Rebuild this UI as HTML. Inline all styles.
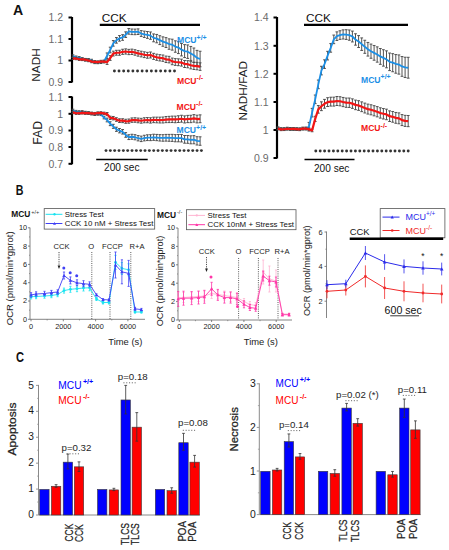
<!DOCTYPE html>
<html><head><meta charset="utf-8"><style>
html,body{margin:0;padding:0;background:#fff;}
svg{display:block;font-family:"Liberation Sans", sans-serif;}
</style></head><body>
<svg width="449" height="550" viewBox="0 0 449 550">
<rect width="449" height="550" fill="#fff"/>
<text x="13" y="14.7" font-size="14.8" fill="#111" text-anchor="start" font-weight="bold" textLength="10.2" lengthAdjust="spacingAndGlyphs">A</text>
<line x1="72" y1="17" x2="72" y2="82.5" stroke="#000" stroke-width="2.2" />
<line x1="68.5" y1="17.5" x2="72" y2="17.5" stroke="#000" stroke-width="2" />
<text x="63" y="21.3" font-size="10.5" fill="#6b6b6b" text-anchor="end" font-weight="normal" >1.2</text>
<line x1="68.5" y1="39" x2="72" y2="39" stroke="#000" stroke-width="2" />
<text x="63" y="42.8" font-size="10.5" fill="#6b6b6b" text-anchor="end" font-weight="normal" >1.1</text>
<line x1="68.5" y1="60.5" x2="72" y2="60.5" stroke="#000" stroke-width="2" />
<text x="63" y="64.3" font-size="10.5" fill="#6b6b6b" text-anchor="end" font-weight="normal" >1</text>
<line x1="68.5" y1="82" x2="72" y2="82" stroke="#000" stroke-width="2" />
<text x="63" y="85.8" font-size="10.5" fill="#6b6b6b" text-anchor="end" font-weight="normal" >0.9</text>
<text x="40.2" y="65" font-size="11.8" fill="#222" text-anchor="middle" font-weight="normal" transform="rotate(-90 40.2 65)" >NADH</text>
<line x1="72" y1="96.5" x2="72" y2="164.3" stroke="#000" stroke-width="2.2" />
<line x1="68.5" y1="97" x2="72" y2="97" stroke="#000" stroke-width="2" />
<text x="63" y="100.8" font-size="10.5" fill="#6b6b6b" text-anchor="end" font-weight="normal" >1.1</text>
<line x1="68.5" y1="113.8" x2="72" y2="113.8" stroke="#000" stroke-width="2" />
<text x="63" y="117.6" font-size="10.5" fill="#6b6b6b" text-anchor="end" font-weight="normal" >1</text>
<line x1="68.5" y1="130.5" x2="72" y2="130.5" stroke="#000" stroke-width="2" />
<text x="63" y="134.3" font-size="10.5" fill="#6b6b6b" text-anchor="end" font-weight="normal" >0.9</text>
<line x1="68.5" y1="147" x2="72" y2="147" stroke="#000" stroke-width="2" />
<text x="63" y="150.8" font-size="10.5" fill="#6b6b6b" text-anchor="end" font-weight="normal" >0.8</text>
<line x1="68.5" y1="163.8" x2="72" y2="163.8" stroke="#000" stroke-width="2" />
<text x="63" y="167.6" font-size="10.5" fill="#6b6b6b" text-anchor="end" font-weight="normal" >0.7</text>
<text x="42.4" y="132.8" font-size="12.2" fill="#222" text-anchor="middle" font-weight="normal" transform="rotate(-90 42.4 132.8)" >FAD</text>
<text x="101.7" y="21.7" font-size="11.8" fill="#111" text-anchor="start" font-weight="normal" >CCK</text>
<line x1="99.8" y1="24.9" x2="200" y2="24.9" stroke="#000" stroke-width="2.2" />
<line x1="73" y1="54.89" x2="73" y2="57.49" stroke="#4a4a4a" stroke-width="0.95" />
<line x1="71.6" y1="54.89" x2="74.4" y2="54.89" stroke="#4a4a4a" stroke-width="0.95" />
<line x1="71.6" y1="57.49" x2="74.4" y2="57.49" stroke="#4a4a4a" stroke-width="0.95" />
<line x1="76.1" y1="56.03" x2="76.1" y2="58.63" stroke="#4a4a4a" stroke-width="0.95" />
<line x1="74.7" y1="56.03" x2="77.5" y2="56.03" stroke="#4a4a4a" stroke-width="0.95" />
<line x1="74.7" y1="58.63" x2="77.5" y2="58.63" stroke="#4a4a4a" stroke-width="0.95" />
<line x1="79.2" y1="56.59" x2="79.2" y2="59.19" stroke="#4a4a4a" stroke-width="0.95" />
<line x1="77.8" y1="56.59" x2="80.6" y2="56.59" stroke="#4a4a4a" stroke-width="0.95" />
<line x1="77.8" y1="59.19" x2="80.6" y2="59.19" stroke="#4a4a4a" stroke-width="0.95" />
<line x1="82.3" y1="57.65" x2="82.3" y2="60.25" stroke="#4a4a4a" stroke-width="0.95" />
<line x1="80.9" y1="57.65" x2="83.7" y2="57.65" stroke="#4a4a4a" stroke-width="0.95" />
<line x1="80.9" y1="60.25" x2="83.7" y2="60.25" stroke="#4a4a4a" stroke-width="0.95" />
<line x1="85.4" y1="58.45" x2="85.4" y2="61.05" stroke="#4a4a4a" stroke-width="0.95" />
<line x1="84" y1="58.45" x2="86.8" y2="58.45" stroke="#4a4a4a" stroke-width="0.95" />
<line x1="84" y1="61.05" x2="86.8" y2="61.05" stroke="#4a4a4a" stroke-width="0.95" />
<line x1="88.5" y1="58.55" x2="88.5" y2="61.15" stroke="#4a4a4a" stroke-width="0.95" />
<line x1="87.1" y1="58.55" x2="89.9" y2="58.55" stroke="#4a4a4a" stroke-width="0.95" />
<line x1="87.1" y1="61.15" x2="89.9" y2="61.15" stroke="#4a4a4a" stroke-width="0.95" />
<line x1="91.6" y1="59.27" x2="91.6" y2="61.87" stroke="#4a4a4a" stroke-width="0.95" />
<line x1="90.2" y1="59.27" x2="93" y2="59.27" stroke="#4a4a4a" stroke-width="0.95" />
<line x1="90.2" y1="61.87" x2="93" y2="61.87" stroke="#4a4a4a" stroke-width="0.95" />
<line x1="94.7" y1="61.03" x2="94.7" y2="63.63" stroke="#4a4a4a" stroke-width="0.95" />
<line x1="93.3" y1="61.03" x2="96.1" y2="61.03" stroke="#4a4a4a" stroke-width="0.95" />
<line x1="93.3" y1="63.63" x2="96.1" y2="63.63" stroke="#4a4a4a" stroke-width="0.95" />
<line x1="97.8" y1="61.11" x2="97.8" y2="63.71" stroke="#4a4a4a" stroke-width="0.95" />
<line x1="96.4" y1="61.11" x2="99.2" y2="61.11" stroke="#4a4a4a" stroke-width="0.95" />
<line x1="96.4" y1="63.71" x2="99.2" y2="63.71" stroke="#4a4a4a" stroke-width="0.95" />
<line x1="100.9" y1="60.91" x2="100.9" y2="63.51" stroke="#4a4a4a" stroke-width="0.95" />
<line x1="99.5" y1="60.91" x2="102.3" y2="60.91" stroke="#4a4a4a" stroke-width="0.95" />
<line x1="99.5" y1="63.51" x2="102.3" y2="63.51" stroke="#4a4a4a" stroke-width="0.95" />
<line x1="104" y1="60.09" x2="104" y2="62.69" stroke="#4a4a4a" stroke-width="0.95" />
<line x1="102.6" y1="60.09" x2="105.4" y2="60.09" stroke="#4a4a4a" stroke-width="0.95" />
<line x1="102.6" y1="62.69" x2="105.4" y2="62.69" stroke="#4a4a4a" stroke-width="0.95" />
<line x1="107.1" y1="52.96" x2="107.1" y2="58.56" stroke="#4a4a4a" stroke-width="0.95" />
<line x1="105.7" y1="52.96" x2="108.5" y2="52.96" stroke="#4a4a4a" stroke-width="0.95" />
<line x1="105.7" y1="58.56" x2="108.5" y2="58.56" stroke="#4a4a4a" stroke-width="0.95" />
<line x1="110.2" y1="47.2" x2="110.2" y2="52.8" stroke="#4a4a4a" stroke-width="0.95" />
<line x1="108.8" y1="47.2" x2="111.6" y2="47.2" stroke="#4a4a4a" stroke-width="0.95" />
<line x1="108.8" y1="52.8" x2="111.6" y2="52.8" stroke="#4a4a4a" stroke-width="0.95" />
<line x1="113.3" y1="40.57" x2="113.3" y2="46.17" stroke="#4a4a4a" stroke-width="0.95" />
<line x1="111.9" y1="40.57" x2="114.7" y2="40.57" stroke="#4a4a4a" stroke-width="0.95" />
<line x1="111.9" y1="46.17" x2="114.7" y2="46.17" stroke="#4a4a4a" stroke-width="0.95" />
<line x1="116.4" y1="37.55" x2="116.4" y2="43.15" stroke="#4a4a4a" stroke-width="0.95" />
<line x1="115" y1="37.55" x2="117.8" y2="37.55" stroke="#4a4a4a" stroke-width="0.95" />
<line x1="115" y1="43.15" x2="117.8" y2="43.15" stroke="#4a4a4a" stroke-width="0.95" />
<line x1="119.5" y1="35.57" x2="119.5" y2="41.17" stroke="#4a4a4a" stroke-width="0.95" />
<line x1="118.1" y1="35.57" x2="120.9" y2="35.57" stroke="#4a4a4a" stroke-width="0.95" />
<line x1="118.1" y1="41.17" x2="120.9" y2="41.17" stroke="#4a4a4a" stroke-width="0.95" />
<line x1="122.6" y1="34.69" x2="122.6" y2="40.29" stroke="#4a4a4a" stroke-width="0.95" />
<line x1="121.2" y1="34.69" x2="124" y2="34.69" stroke="#4a4a4a" stroke-width="0.95" />
<line x1="121.2" y1="40.29" x2="124" y2="40.29" stroke="#4a4a4a" stroke-width="0.95" />
<line x1="125.7" y1="31.85" x2="125.7" y2="37.45" stroke="#4a4a4a" stroke-width="0.95" />
<line x1="124.3" y1="31.85" x2="127.1" y2="31.85" stroke="#4a4a4a" stroke-width="0.95" />
<line x1="124.3" y1="37.45" x2="127.1" y2="37.45" stroke="#4a4a4a" stroke-width="0.95" />
<line x1="128.8" y1="28.56" x2="128.8" y2="34.16" stroke="#4a4a4a" stroke-width="0.95" />
<line x1="127.4" y1="28.56" x2="130.2" y2="28.56" stroke="#4a4a4a" stroke-width="0.95" />
<line x1="127.4" y1="34.16" x2="130.2" y2="34.16" stroke="#4a4a4a" stroke-width="0.95" />
<line x1="131.9" y1="29" x2="131.9" y2="34.6" stroke="#4a4a4a" stroke-width="0.95" />
<line x1="130.5" y1="29" x2="133.3" y2="29" stroke="#4a4a4a" stroke-width="0.95" />
<line x1="130.5" y1="34.6" x2="133.3" y2="34.6" stroke="#4a4a4a" stroke-width="0.95" />
<line x1="135" y1="29.1" x2="135" y2="34.7" stroke="#4a4a4a" stroke-width="0.95" />
<line x1="133.6" y1="29.1" x2="136.4" y2="29.1" stroke="#4a4a4a" stroke-width="0.95" />
<line x1="133.6" y1="34.7" x2="136.4" y2="34.7" stroke="#4a4a4a" stroke-width="0.95" />
<line x1="138.1" y1="28.89" x2="138.1" y2="34.49" stroke="#4a4a4a" stroke-width="0.95" />
<line x1="136.7" y1="28.89" x2="139.5" y2="28.89" stroke="#4a4a4a" stroke-width="0.95" />
<line x1="136.7" y1="34.49" x2="139.5" y2="34.49" stroke="#4a4a4a" stroke-width="0.95" />
<line x1="141.2" y1="30.61" x2="141.2" y2="36.41" stroke="#4a4a4a" stroke-width="0.95" />
<line x1="139.8" y1="30.61" x2="142.6" y2="30.61" stroke="#4a4a4a" stroke-width="0.95" />
<line x1="139.8" y1="36.41" x2="142.6" y2="36.41" stroke="#4a4a4a" stroke-width="0.95" />
<line x1="144.3" y1="31.14" x2="144.3" y2="37.45" stroke="#4a4a4a" stroke-width="0.95" />
<line x1="142.9" y1="31.14" x2="145.7" y2="31.14" stroke="#4a4a4a" stroke-width="0.95" />
<line x1="142.9" y1="37.45" x2="145.7" y2="37.45" stroke="#4a4a4a" stroke-width="0.95" />
<line x1="147.4" y1="31.52" x2="147.4" y2="38.35" stroke="#4a4a4a" stroke-width="0.95" />
<line x1="146" y1="31.52" x2="148.8" y2="31.52" stroke="#4a4a4a" stroke-width="0.95" />
<line x1="146" y1="38.35" x2="148.8" y2="38.35" stroke="#4a4a4a" stroke-width="0.95" />
<line x1="150.5" y1="31.97" x2="150.5" y2="39.3" stroke="#4a4a4a" stroke-width="0.95" />
<line x1="149.1" y1="31.97" x2="151.9" y2="31.97" stroke="#4a4a4a" stroke-width="0.95" />
<line x1="149.1" y1="39.3" x2="151.9" y2="39.3" stroke="#4a4a4a" stroke-width="0.95" />
<line x1="153.6" y1="33.94" x2="153.6" y2="41.79" stroke="#4a4a4a" stroke-width="0.95" />
<line x1="152.2" y1="33.94" x2="155" y2="33.94" stroke="#4a4a4a" stroke-width="0.95" />
<line x1="152.2" y1="41.79" x2="155" y2="41.79" stroke="#4a4a4a" stroke-width="0.95" />
<line x1="156.7" y1="34.44" x2="156.7" y2="42.8" stroke="#4a4a4a" stroke-width="0.95" />
<line x1="155.3" y1="34.44" x2="158.1" y2="34.44" stroke="#4a4a4a" stroke-width="0.95" />
<line x1="155.3" y1="42.8" x2="158.1" y2="42.8" stroke="#4a4a4a" stroke-width="0.95" />
<line x1="159.8" y1="35.71" x2="159.8" y2="44.58" stroke="#4a4a4a" stroke-width="0.95" />
<line x1="158.4" y1="35.71" x2="161.2" y2="35.71" stroke="#4a4a4a" stroke-width="0.95" />
<line x1="158.4" y1="44.58" x2="161.2" y2="44.58" stroke="#4a4a4a" stroke-width="0.95" />
<line x1="162.9" y1="36.87" x2="162.9" y2="46.25" stroke="#4a4a4a" stroke-width="0.95" />
<line x1="161.5" y1="36.87" x2="164.3" y2="36.87" stroke="#4a4a4a" stroke-width="0.95" />
<line x1="161.5" y1="46.25" x2="164.3" y2="46.25" stroke="#4a4a4a" stroke-width="0.95" />
<line x1="166" y1="37.64" x2="166" y2="47.53" stroke="#4a4a4a" stroke-width="0.95" />
<line x1="164.6" y1="37.64" x2="167.4" y2="37.64" stroke="#4a4a4a" stroke-width="0.95" />
<line x1="164.6" y1="47.53" x2="167.4" y2="47.53" stroke="#4a4a4a" stroke-width="0.95" />
<line x1="169.1" y1="38.86" x2="169.1" y2="49.27" stroke="#4a4a4a" stroke-width="0.95" />
<line x1="167.7" y1="38.86" x2="170.5" y2="38.86" stroke="#4a4a4a" stroke-width="0.95" />
<line x1="167.7" y1="49.27" x2="170.5" y2="49.27" stroke="#4a4a4a" stroke-width="0.95" />
<line x1="172.2" y1="39.2" x2="172.2" y2="50.12" stroke="#4a4a4a" stroke-width="0.95" />
<line x1="170.8" y1="39.2" x2="173.6" y2="39.2" stroke="#4a4a4a" stroke-width="0.95" />
<line x1="170.8" y1="50.12" x2="173.6" y2="50.12" stroke="#4a4a4a" stroke-width="0.95" />
<line x1="175.3" y1="40.82" x2="175.3" y2="52.24" stroke="#4a4a4a" stroke-width="0.95" />
<line x1="173.9" y1="40.82" x2="176.7" y2="40.82" stroke="#4a4a4a" stroke-width="0.95" />
<line x1="173.9" y1="52.24" x2="176.7" y2="52.24" stroke="#4a4a4a" stroke-width="0.95" />
<line x1="178.4" y1="41.63" x2="178.4" y2="53.57" stroke="#4a4a4a" stroke-width="0.95" />
<line x1="177" y1="41.63" x2="179.8" y2="41.63" stroke="#4a4a4a" stroke-width="0.95" />
<line x1="177" y1="53.57" x2="179.8" y2="53.57" stroke="#4a4a4a" stroke-width="0.95" />
<line x1="181.5" y1="43.46" x2="181.5" y2="55.91" stroke="#4a4a4a" stroke-width="0.95" />
<line x1="180.1" y1="43.46" x2="182.9" y2="43.46" stroke="#4a4a4a" stroke-width="0.95" />
<line x1="180.1" y1="55.91" x2="182.9" y2="55.91" stroke="#4a4a4a" stroke-width="0.95" />
<line x1="184.6" y1="44.63" x2="184.6" y2="57.59" stroke="#4a4a4a" stroke-width="0.95" />
<line x1="183.2" y1="44.63" x2="186" y2="44.63" stroke="#4a4a4a" stroke-width="0.95" />
<line x1="183.2" y1="57.59" x2="186" y2="57.59" stroke="#4a4a4a" stroke-width="0.95" />
<line x1="187.7" y1="44.93" x2="187.7" y2="58.41" stroke="#4a4a4a" stroke-width="0.95" />
<line x1="186.3" y1="44.93" x2="189.1" y2="44.93" stroke="#4a4a4a" stroke-width="0.95" />
<line x1="186.3" y1="58.41" x2="189.1" y2="58.41" stroke="#4a4a4a" stroke-width="0.95" />
<line x1="190.8" y1="46.44" x2="190.8" y2="60.42" stroke="#4a4a4a" stroke-width="0.95" />
<line x1="189.4" y1="46.44" x2="192.2" y2="46.44" stroke="#4a4a4a" stroke-width="0.95" />
<line x1="189.4" y1="60.42" x2="192.2" y2="60.42" stroke="#4a4a4a" stroke-width="0.95" />
<line x1="193.9" y1="48.02" x2="193.9" y2="62.51" stroke="#4a4a4a" stroke-width="0.95" />
<line x1="192.5" y1="48.02" x2="195.3" y2="48.02" stroke="#4a4a4a" stroke-width="0.95" />
<line x1="192.5" y1="62.51" x2="195.3" y2="62.51" stroke="#4a4a4a" stroke-width="0.95" />
<line x1="197" y1="50.39" x2="197" y2="65.4" stroke="#4a4a4a" stroke-width="0.95" />
<line x1="195.6" y1="50.39" x2="198.4" y2="50.39" stroke="#4a4a4a" stroke-width="0.95" />
<line x1="195.6" y1="65.4" x2="198.4" y2="65.4" stroke="#4a4a4a" stroke-width="0.95" />
<line x1="200.1" y1="51.24" x2="200.1" y2="66.76" stroke="#4a4a4a" stroke-width="0.95" />
<line x1="198.7" y1="51.24" x2="201.5" y2="51.24" stroke="#4a4a4a" stroke-width="0.95" />
<line x1="198.7" y1="66.76" x2="201.5" y2="66.76" stroke="#4a4a4a" stroke-width="0.95" />
<polyline points="73,56.19 76.1,57.33 79.2,57.89 82.3,58.95 85.4,59.75 88.5,59.85 91.6,60.57 94.7,62.33 97.8,62.41 100.9,62.21 104,61.39 107.1,55.76 110.2,50 113.3,43.37 116.4,40.35 119.5,38.37 122.6,37.49 125.7,34.65 128.8,31.36 131.9,31.8 135,31.9 138.1,31.69 141.2,33.51 144.3,34.3 147.4,34.93 150.5,35.64 153.6,37.86 156.7,38.62 159.8,40.14 162.9,41.56 166,42.59 169.1,44.06 172.2,44.66 175.3,46.53 178.4,47.6 181.5,49.68 184.6,51.11 187.7,51.67 190.8,53.43 193.9,55.26 197,57.9 200.1,59" fill="none" stroke="#1b8fe6" stroke-width="1.8" stroke-linejoin="round" />
<line x1="73" y1="57.08" x2="73" y2="59.48" stroke="#4a4a4a" stroke-width="0.95" />
<line x1="71.6" y1="57.08" x2="74.4" y2="57.08" stroke="#4a4a4a" stroke-width="0.95" />
<line x1="71.6" y1="59.48" x2="74.4" y2="59.48" stroke="#4a4a4a" stroke-width="0.95" />
<line x1="76.1" y1="57.33" x2="76.1" y2="59.73" stroke="#4a4a4a" stroke-width="0.95" />
<line x1="74.7" y1="57.33" x2="77.5" y2="57.33" stroke="#4a4a4a" stroke-width="0.95" />
<line x1="74.7" y1="59.73" x2="77.5" y2="59.73" stroke="#4a4a4a" stroke-width="0.95" />
<line x1="79.2" y1="58.09" x2="79.2" y2="60.49" stroke="#4a4a4a" stroke-width="0.95" />
<line x1="77.8" y1="58.09" x2="80.6" y2="58.09" stroke="#4a4a4a" stroke-width="0.95" />
<line x1="77.8" y1="60.49" x2="80.6" y2="60.49" stroke="#4a4a4a" stroke-width="0.95" />
<line x1="82.3" y1="58.2" x2="82.3" y2="60.6" stroke="#4a4a4a" stroke-width="0.95" />
<line x1="80.9" y1="58.2" x2="83.7" y2="58.2" stroke="#4a4a4a" stroke-width="0.95" />
<line x1="80.9" y1="60.6" x2="83.7" y2="60.6" stroke="#4a4a4a" stroke-width="0.95" />
<line x1="85.4" y1="58.5" x2="85.4" y2="60.9" stroke="#4a4a4a" stroke-width="0.95" />
<line x1="84" y1="58.5" x2="86.8" y2="58.5" stroke="#4a4a4a" stroke-width="0.95" />
<line x1="84" y1="60.9" x2="86.8" y2="60.9" stroke="#4a4a4a" stroke-width="0.95" />
<line x1="88.5" y1="59.31" x2="88.5" y2="61.71" stroke="#4a4a4a" stroke-width="0.95" />
<line x1="87.1" y1="59.31" x2="89.9" y2="59.31" stroke="#4a4a4a" stroke-width="0.95" />
<line x1="87.1" y1="61.71" x2="89.9" y2="61.71" stroke="#4a4a4a" stroke-width="0.95" />
<line x1="91.6" y1="60.33" x2="91.6" y2="62.73" stroke="#4a4a4a" stroke-width="0.95" />
<line x1="90.2" y1="60.33" x2="93" y2="60.33" stroke="#4a4a4a" stroke-width="0.95" />
<line x1="90.2" y1="62.73" x2="93" y2="62.73" stroke="#4a4a4a" stroke-width="0.95" />
<line x1="94.7" y1="60.6" x2="94.7" y2="63" stroke="#4a4a4a" stroke-width="0.95" />
<line x1="93.3" y1="60.6" x2="96.1" y2="60.6" stroke="#4a4a4a" stroke-width="0.95" />
<line x1="93.3" y1="63" x2="96.1" y2="63" stroke="#4a4a4a" stroke-width="0.95" />
<line x1="97.8" y1="60.96" x2="97.8" y2="63.36" stroke="#4a4a4a" stroke-width="0.95" />
<line x1="96.4" y1="60.96" x2="99.2" y2="60.96" stroke="#4a4a4a" stroke-width="0.95" />
<line x1="96.4" y1="63.36" x2="99.2" y2="63.36" stroke="#4a4a4a" stroke-width="0.95" />
<line x1="100.9" y1="60.32" x2="100.9" y2="62.72" stroke="#4a4a4a" stroke-width="0.95" />
<line x1="99.5" y1="60.32" x2="102.3" y2="60.32" stroke="#4a4a4a" stroke-width="0.95" />
<line x1="99.5" y1="62.72" x2="102.3" y2="62.72" stroke="#4a4a4a" stroke-width="0.95" />
<line x1="104" y1="60.46" x2="104" y2="62.86" stroke="#4a4a4a" stroke-width="0.95" />
<line x1="102.6" y1="60.46" x2="105.4" y2="60.46" stroke="#4a4a4a" stroke-width="0.95" />
<line x1="102.6" y1="62.86" x2="105.4" y2="62.86" stroke="#4a4a4a" stroke-width="0.95" />
<line x1="107.1" y1="59.82" x2="107.1" y2="64.42" stroke="#4a4a4a" stroke-width="0.95" />
<line x1="105.7" y1="59.82" x2="108.5" y2="59.82" stroke="#4a4a4a" stroke-width="0.95" />
<line x1="105.7" y1="64.42" x2="108.5" y2="64.42" stroke="#4a4a4a" stroke-width="0.95" />
<line x1="110.2" y1="55.67" x2="110.2" y2="60.37" stroke="#4a4a4a" stroke-width="0.95" />
<line x1="108.8" y1="55.67" x2="111.6" y2="55.67" stroke="#4a4a4a" stroke-width="0.95" />
<line x1="108.8" y1="60.37" x2="111.6" y2="60.37" stroke="#4a4a4a" stroke-width="0.95" />
<line x1="113.3" y1="51.17" x2="113.3" y2="55.97" stroke="#4a4a4a" stroke-width="0.95" />
<line x1="111.9" y1="51.17" x2="114.7" y2="51.17" stroke="#4a4a4a" stroke-width="0.95" />
<line x1="111.9" y1="55.97" x2="114.7" y2="55.97" stroke="#4a4a4a" stroke-width="0.95" />
<line x1="116.4" y1="50.3" x2="116.4" y2="55.19" stroke="#4a4a4a" stroke-width="0.95" />
<line x1="115" y1="50.3" x2="117.8" y2="50.3" stroke="#4a4a4a" stroke-width="0.95" />
<line x1="115" y1="55.19" x2="117.8" y2="55.19" stroke="#4a4a4a" stroke-width="0.95" />
<line x1="119.5" y1="50.27" x2="119.5" y2="55.26" stroke="#4a4a4a" stroke-width="0.95" />
<line x1="118.1" y1="50.27" x2="120.9" y2="50.27" stroke="#4a4a4a" stroke-width="0.95" />
<line x1="118.1" y1="55.26" x2="120.9" y2="55.26" stroke="#4a4a4a" stroke-width="0.95" />
<line x1="122.6" y1="49.26" x2="122.6" y2="54.35" stroke="#4a4a4a" stroke-width="0.95" />
<line x1="121.2" y1="49.26" x2="124" y2="49.26" stroke="#4a4a4a" stroke-width="0.95" />
<line x1="121.2" y1="54.35" x2="124" y2="54.35" stroke="#4a4a4a" stroke-width="0.95" />
<line x1="125.7" y1="48.88" x2="125.7" y2="54.07" stroke="#4a4a4a" stroke-width="0.95" />
<line x1="124.3" y1="48.88" x2="127.1" y2="48.88" stroke="#4a4a4a" stroke-width="0.95" />
<line x1="124.3" y1="54.07" x2="127.1" y2="54.07" stroke="#4a4a4a" stroke-width="0.95" />
<line x1="128.8" y1="49.36" x2="128.8" y2="54.64" stroke="#4a4a4a" stroke-width="0.95" />
<line x1="127.4" y1="49.36" x2="130.2" y2="49.36" stroke="#4a4a4a" stroke-width="0.95" />
<line x1="127.4" y1="54.64" x2="130.2" y2="54.64" stroke="#4a4a4a" stroke-width="0.95" />
<line x1="131.9" y1="49.11" x2="131.9" y2="54.49" stroke="#4a4a4a" stroke-width="0.95" />
<line x1="130.5" y1="49.11" x2="133.3" y2="49.11" stroke="#4a4a4a" stroke-width="0.95" />
<line x1="130.5" y1="54.49" x2="133.3" y2="54.49" stroke="#4a4a4a" stroke-width="0.95" />
<line x1="135" y1="49.73" x2="135" y2="55.21" stroke="#4a4a4a" stroke-width="0.95" />
<line x1="133.6" y1="49.73" x2="136.4" y2="49.73" stroke="#4a4a4a" stroke-width="0.95" />
<line x1="133.6" y1="55.21" x2="136.4" y2="55.21" stroke="#4a4a4a" stroke-width="0.95" />
<line x1="138.1" y1="50.6" x2="138.1" y2="56.17" stroke="#4a4a4a" stroke-width="0.95" />
<line x1="136.7" y1="50.6" x2="139.5" y2="50.6" stroke="#4a4a4a" stroke-width="0.95" />
<line x1="136.7" y1="56.17" x2="139.5" y2="56.17" stroke="#4a4a4a" stroke-width="0.95" />
<line x1="141.2" y1="51.21" x2="141.2" y2="56.88" stroke="#4a4a4a" stroke-width="0.95" />
<line x1="139.8" y1="51.21" x2="142.6" y2="51.21" stroke="#4a4a4a" stroke-width="0.95" />
<line x1="139.8" y1="56.88" x2="142.6" y2="56.88" stroke="#4a4a4a" stroke-width="0.95" />
<line x1="144.3" y1="51.84" x2="144.3" y2="57.6" stroke="#4a4a4a" stroke-width="0.95" />
<line x1="142.9" y1="51.84" x2="145.7" y2="51.84" stroke="#4a4a4a" stroke-width="0.95" />
<line x1="142.9" y1="57.6" x2="145.7" y2="57.6" stroke="#4a4a4a" stroke-width="0.95" />
<line x1="147.4" y1="52.35" x2="147.4" y2="58.21" stroke="#4a4a4a" stroke-width="0.95" />
<line x1="146" y1="52.35" x2="148.8" y2="52.35" stroke="#4a4a4a" stroke-width="0.95" />
<line x1="146" y1="58.21" x2="148.8" y2="58.21" stroke="#4a4a4a" stroke-width="0.95" />
<line x1="150.5" y1="52" x2="150.5" y2="57.96" stroke="#4a4a4a" stroke-width="0.95" />
<line x1="149.1" y1="52" x2="151.9" y2="52" stroke="#4a4a4a" stroke-width="0.95" />
<line x1="149.1" y1="57.96" x2="151.9" y2="57.96" stroke="#4a4a4a" stroke-width="0.95" />
<line x1="153.6" y1="53.34" x2="153.6" y2="59.4" stroke="#4a4a4a" stroke-width="0.95" />
<line x1="152.2" y1="53.34" x2="155" y2="53.34" stroke="#4a4a4a" stroke-width="0.95" />
<line x1="152.2" y1="59.4" x2="155" y2="59.4" stroke="#4a4a4a" stroke-width="0.95" />
<line x1="156.7" y1="54.15" x2="156.7" y2="60.3" stroke="#4a4a4a" stroke-width="0.95" />
<line x1="155.3" y1="54.15" x2="158.1" y2="54.15" stroke="#4a4a4a" stroke-width="0.95" />
<line x1="155.3" y1="60.3" x2="158.1" y2="60.3" stroke="#4a4a4a" stroke-width="0.95" />
<line x1="159.8" y1="54.67" x2="159.8" y2="60.92" stroke="#4a4a4a" stroke-width="0.95" />
<line x1="158.4" y1="54.67" x2="161.2" y2="54.67" stroke="#4a4a4a" stroke-width="0.95" />
<line x1="158.4" y1="60.92" x2="161.2" y2="60.92" stroke="#4a4a4a" stroke-width="0.95" />
<line x1="162.9" y1="55" x2="162.9" y2="61.35" stroke="#4a4a4a" stroke-width="0.95" />
<line x1="161.5" y1="55" x2="164.3" y2="55" stroke="#4a4a4a" stroke-width="0.95" />
<line x1="161.5" y1="61.35" x2="164.3" y2="61.35" stroke="#4a4a4a" stroke-width="0.95" />
<line x1="166" y1="56.08" x2="166" y2="62.52" stroke="#4a4a4a" stroke-width="0.95" />
<line x1="164.6" y1="56.08" x2="167.4" y2="56.08" stroke="#4a4a4a" stroke-width="0.95" />
<line x1="164.6" y1="62.52" x2="167.4" y2="62.52" stroke="#4a4a4a" stroke-width="0.95" />
<line x1="169.1" y1="56.34" x2="169.1" y2="62.88" stroke="#4a4a4a" stroke-width="0.95" />
<line x1="167.7" y1="56.34" x2="170.5" y2="56.34" stroke="#4a4a4a" stroke-width="0.95" />
<line x1="167.7" y1="62.88" x2="170.5" y2="62.88" stroke="#4a4a4a" stroke-width="0.95" />
<line x1="172.2" y1="58.08" x2="172.2" y2="64.72" stroke="#4a4a4a" stroke-width="0.95" />
<line x1="170.8" y1="58.08" x2="173.6" y2="58.08" stroke="#4a4a4a" stroke-width="0.95" />
<line x1="170.8" y1="64.72" x2="173.6" y2="64.72" stroke="#4a4a4a" stroke-width="0.95" />
<line x1="175.3" y1="58.64" x2="175.3" y2="65.38" stroke="#4a4a4a" stroke-width="0.95" />
<line x1="173.9" y1="58.64" x2="176.7" y2="58.64" stroke="#4a4a4a" stroke-width="0.95" />
<line x1="173.9" y1="65.38" x2="176.7" y2="65.38" stroke="#4a4a4a" stroke-width="0.95" />
<line x1="178.4" y1="58.85" x2="178.4" y2="65.69" stroke="#4a4a4a" stroke-width="0.95" />
<line x1="177" y1="58.85" x2="179.8" y2="58.85" stroke="#4a4a4a" stroke-width="0.95" />
<line x1="177" y1="65.69" x2="179.8" y2="65.69" stroke="#4a4a4a" stroke-width="0.95" />
<line x1="181.5" y1="59.15" x2="181.5" y2="66.08" stroke="#4a4a4a" stroke-width="0.95" />
<line x1="180.1" y1="59.15" x2="182.9" y2="59.15" stroke="#4a4a4a" stroke-width="0.95" />
<line x1="180.1" y1="66.08" x2="182.9" y2="66.08" stroke="#4a4a4a" stroke-width="0.95" />
<line x1="184.6" y1="60.47" x2="184.6" y2="67.5" stroke="#4a4a4a" stroke-width="0.95" />
<line x1="183.2" y1="60.47" x2="186" y2="60.47" stroke="#4a4a4a" stroke-width="0.95" />
<line x1="183.2" y1="67.5" x2="186" y2="67.5" stroke="#4a4a4a" stroke-width="0.95" />
<line x1="187.7" y1="60.66" x2="187.7" y2="67.78" stroke="#4a4a4a" stroke-width="0.95" />
<line x1="186.3" y1="60.66" x2="189.1" y2="60.66" stroke="#4a4a4a" stroke-width="0.95" />
<line x1="186.3" y1="67.78" x2="189.1" y2="67.78" stroke="#4a4a4a" stroke-width="0.95" />
<line x1="190.8" y1="61.63" x2="190.8" y2="68.85" stroke="#4a4a4a" stroke-width="0.95" />
<line x1="189.4" y1="61.63" x2="192.2" y2="61.63" stroke="#4a4a4a" stroke-width="0.95" />
<line x1="189.4" y1="68.85" x2="192.2" y2="68.85" stroke="#4a4a4a" stroke-width="0.95" />
<line x1="193.9" y1="62.18" x2="193.9" y2="69.49" stroke="#4a4a4a" stroke-width="0.95" />
<line x1="192.5" y1="62.18" x2="195.3" y2="62.18" stroke="#4a4a4a" stroke-width="0.95" />
<line x1="192.5" y1="69.49" x2="195.3" y2="69.49" stroke="#4a4a4a" stroke-width="0.95" />
<line x1="197" y1="62.36" x2="197" y2="69.78" stroke="#4a4a4a" stroke-width="0.95" />
<line x1="195.6" y1="62.36" x2="198.4" y2="62.36" stroke="#4a4a4a" stroke-width="0.95" />
<line x1="195.6" y1="69.78" x2="198.4" y2="69.78" stroke="#4a4a4a" stroke-width="0.95" />
<line x1="200.1" y1="62.84" x2="200.1" y2="70.35" stroke="#4a4a4a" stroke-width="0.95" />
<line x1="198.7" y1="62.84" x2="201.5" y2="62.84" stroke="#4a4a4a" stroke-width="0.95" />
<line x1="198.7" y1="70.35" x2="201.5" y2="70.35" stroke="#4a4a4a" stroke-width="0.95" />
<polyline points="73,58.28 76.1,58.53 79.2,59.29 82.3,59.4 85.4,59.7 88.5,60.51 91.6,61.53 94.7,61.8 97.8,62.16 100.9,61.52 104,61.66 107.1,62.12 110.2,58.02 113.3,53.57 116.4,52.75 119.5,52.76 122.6,51.81 125.7,51.47 128.8,52 131.9,51.8 135,52.47 138.1,53.38 141.2,54.04 144.3,54.72 147.4,55.28 150.5,54.98 153.6,56.37 156.7,57.22 159.8,57.8 162.9,58.17 166,59.3 169.1,59.61 172.2,61.4 175.3,62.01 178.4,62.27 181.5,62.61 184.6,63.99 187.7,64.22 190.8,65.24 193.9,65.84 197,66.07 200.1,66.6" fill="none" stroke="#f21515" stroke-width="2.2" stroke-linejoin="round" />
<circle cx="114.4" cy="71" r="1.45" fill="#333"/>
<circle cx="119.02" cy="71" r="1.45" fill="#333"/>
<circle cx="123.65" cy="71" r="1.45" fill="#333"/>
<circle cx="128.27" cy="71" r="1.45" fill="#333"/>
<circle cx="132.89" cy="71" r="1.45" fill="#333"/>
<circle cx="137.52" cy="71" r="1.45" fill="#333"/>
<circle cx="142.14" cy="71" r="1.45" fill="#333"/>
<circle cx="146.76" cy="71" r="1.45" fill="#333"/>
<circle cx="151.38" cy="71" r="1.45" fill="#333"/>
<circle cx="156.01" cy="71" r="1.45" fill="#333"/>
<circle cx="160.63" cy="71" r="1.45" fill="#333"/>
<circle cx="165.25" cy="71" r="1.45" fill="#333"/>
<circle cx="169.88" cy="71" r="1.45" fill="#333"/>
<circle cx="174.5" cy="71" r="1.45" fill="#333"/>
<text x="177" y="42.9" font-size="8.6" fill="#1b8fe6" text-anchor="start" font-weight="bold" >MCU<tspan font-size="7" dy="-3.2">+/+</tspan></text>
<text x="177" y="83.6" font-size="8.6" fill="#f21515" text-anchor="start" font-weight="bold" >MCU<tspan font-size="7" dy="-3.2">-/-</tspan></text>
<line x1="73" y1="109.23" x2="73" y2="111.83" stroke="#4a4a4a" stroke-width="0.95" />
<line x1="71.6" y1="109.23" x2="74.4" y2="109.23" stroke="#4a4a4a" stroke-width="0.95" />
<line x1="71.6" y1="111.83" x2="74.4" y2="111.83" stroke="#4a4a4a" stroke-width="0.95" />
<line x1="76.1" y1="110.38" x2="76.1" y2="112.98" stroke="#4a4a4a" stroke-width="0.95" />
<line x1="74.7" y1="110.38" x2="77.5" y2="110.38" stroke="#4a4a4a" stroke-width="0.95" />
<line x1="74.7" y1="112.98" x2="77.5" y2="112.98" stroke="#4a4a4a" stroke-width="0.95" />
<line x1="79.2" y1="110.72" x2="79.2" y2="113.32" stroke="#4a4a4a" stroke-width="0.95" />
<line x1="77.8" y1="110.72" x2="80.6" y2="110.72" stroke="#4a4a4a" stroke-width="0.95" />
<line x1="77.8" y1="113.32" x2="80.6" y2="113.32" stroke="#4a4a4a" stroke-width="0.95" />
<line x1="82.3" y1="110.64" x2="82.3" y2="113.24" stroke="#4a4a4a" stroke-width="0.95" />
<line x1="80.9" y1="110.64" x2="83.7" y2="110.64" stroke="#4a4a4a" stroke-width="0.95" />
<line x1="80.9" y1="113.24" x2="83.7" y2="113.24" stroke="#4a4a4a" stroke-width="0.95" />
<line x1="85.4" y1="111.31" x2="85.4" y2="113.91" stroke="#4a4a4a" stroke-width="0.95" />
<line x1="84" y1="111.31" x2="86.8" y2="111.31" stroke="#4a4a4a" stroke-width="0.95" />
<line x1="84" y1="113.91" x2="86.8" y2="113.91" stroke="#4a4a4a" stroke-width="0.95" />
<line x1="88.5" y1="111.69" x2="88.5" y2="114.29" stroke="#4a4a4a" stroke-width="0.95" />
<line x1="87.1" y1="111.69" x2="89.9" y2="111.69" stroke="#4a4a4a" stroke-width="0.95" />
<line x1="87.1" y1="114.29" x2="89.9" y2="114.29" stroke="#4a4a4a" stroke-width="0.95" />
<line x1="91.6" y1="112.32" x2="91.6" y2="114.92" stroke="#4a4a4a" stroke-width="0.95" />
<line x1="90.2" y1="112.32" x2="93" y2="112.32" stroke="#4a4a4a" stroke-width="0.95" />
<line x1="90.2" y1="114.92" x2="93" y2="114.92" stroke="#4a4a4a" stroke-width="0.95" />
<line x1="94.7" y1="112.89" x2="94.7" y2="115.49" stroke="#4a4a4a" stroke-width="0.95" />
<line x1="93.3" y1="112.89" x2="96.1" y2="112.89" stroke="#4a4a4a" stroke-width="0.95" />
<line x1="93.3" y1="115.49" x2="96.1" y2="115.49" stroke="#4a4a4a" stroke-width="0.95" />
<line x1="97.8" y1="112.62" x2="97.8" y2="115.22" stroke="#4a4a4a" stroke-width="0.95" />
<line x1="96.4" y1="112.62" x2="99.2" y2="112.62" stroke="#4a4a4a" stroke-width="0.95" />
<line x1="96.4" y1="115.22" x2="99.2" y2="115.22" stroke="#4a4a4a" stroke-width="0.95" />
<line x1="100.9" y1="112.99" x2="100.9" y2="115.59" stroke="#4a4a4a" stroke-width="0.95" />
<line x1="99.5" y1="112.99" x2="102.3" y2="112.99" stroke="#4a4a4a" stroke-width="0.95" />
<line x1="99.5" y1="115.59" x2="102.3" y2="115.59" stroke="#4a4a4a" stroke-width="0.95" />
<line x1="104" y1="116.27" x2="104" y2="118.87" stroke="#4a4a4a" stroke-width="0.95" />
<line x1="102.6" y1="116.27" x2="105.4" y2="116.27" stroke="#4a4a4a" stroke-width="0.95" />
<line x1="102.6" y1="118.87" x2="105.4" y2="118.87" stroke="#4a4a4a" stroke-width="0.95" />
<line x1="107.1" y1="118.13" x2="107.1" y2="121.83" stroke="#4a4a4a" stroke-width="0.95" />
<line x1="105.7" y1="118.13" x2="108.5" y2="118.13" stroke="#4a4a4a" stroke-width="0.95" />
<line x1="105.7" y1="121.83" x2="108.5" y2="121.83" stroke="#4a4a4a" stroke-width="0.95" />
<line x1="110.2" y1="121.76" x2="110.2" y2="125.63" stroke="#4a4a4a" stroke-width="0.95" />
<line x1="108.8" y1="121.76" x2="111.6" y2="121.76" stroke="#4a4a4a" stroke-width="0.95" />
<line x1="108.8" y1="125.63" x2="111.6" y2="125.63" stroke="#4a4a4a" stroke-width="0.95" />
<line x1="113.3" y1="124.31" x2="113.3" y2="128.34" stroke="#4a4a4a" stroke-width="0.95" />
<line x1="111.9" y1="124.31" x2="114.7" y2="124.31" stroke="#4a4a4a" stroke-width="0.95" />
<line x1="111.9" y1="128.34" x2="114.7" y2="128.34" stroke="#4a4a4a" stroke-width="0.95" />
<line x1="116.4" y1="127.19" x2="116.4" y2="131.37" stroke="#4a4a4a" stroke-width="0.95" />
<line x1="115" y1="127.19" x2="117.8" y2="127.19" stroke="#4a4a4a" stroke-width="0.95" />
<line x1="115" y1="131.37" x2="117.8" y2="131.37" stroke="#4a4a4a" stroke-width="0.95" />
<line x1="119.5" y1="128.52" x2="119.5" y2="132.86" stroke="#4a4a4a" stroke-width="0.95" />
<line x1="118.1" y1="128.52" x2="120.9" y2="128.52" stroke="#4a4a4a" stroke-width="0.95" />
<line x1="118.1" y1="132.86" x2="120.9" y2="132.86" stroke="#4a4a4a" stroke-width="0.95" />
<line x1="122.6" y1="129.54" x2="122.6" y2="134.04" stroke="#4a4a4a" stroke-width="0.95" />
<line x1="121.2" y1="129.54" x2="124" y2="129.54" stroke="#4a4a4a" stroke-width="0.95" />
<line x1="121.2" y1="134.04" x2="124" y2="134.04" stroke="#4a4a4a" stroke-width="0.95" />
<line x1="125.7" y1="132.62" x2="125.7" y2="137.27" stroke="#4a4a4a" stroke-width="0.95" />
<line x1="124.3" y1="132.62" x2="127.1" y2="132.62" stroke="#4a4a4a" stroke-width="0.95" />
<line x1="124.3" y1="137.27" x2="127.1" y2="137.27" stroke="#4a4a4a" stroke-width="0.95" />
<line x1="128.8" y1="134.74" x2="128.8" y2="139.56" stroke="#4a4a4a" stroke-width="0.95" />
<line x1="127.4" y1="134.74" x2="130.2" y2="134.74" stroke="#4a4a4a" stroke-width="0.95" />
<line x1="127.4" y1="139.56" x2="130.2" y2="139.56" stroke="#4a4a4a" stroke-width="0.95" />
<line x1="131.9" y1="134.28" x2="131.9" y2="139.25" stroke="#4a4a4a" stroke-width="0.95" />
<line x1="130.5" y1="134.28" x2="133.3" y2="134.28" stroke="#4a4a4a" stroke-width="0.95" />
<line x1="130.5" y1="139.25" x2="133.3" y2="139.25" stroke="#4a4a4a" stroke-width="0.95" />
<line x1="135" y1="134.68" x2="135" y2="139.81" stroke="#4a4a4a" stroke-width="0.95" />
<line x1="133.6" y1="134.68" x2="136.4" y2="134.68" stroke="#4a4a4a" stroke-width="0.95" />
<line x1="133.6" y1="139.81" x2="136.4" y2="139.81" stroke="#4a4a4a" stroke-width="0.95" />
<line x1="138.1" y1="135.6" x2="138.1" y2="140.89" stroke="#4a4a4a" stroke-width="0.95" />
<line x1="136.7" y1="135.6" x2="139.5" y2="135.6" stroke="#4a4a4a" stroke-width="0.95" />
<line x1="136.7" y1="140.89" x2="139.5" y2="140.89" stroke="#4a4a4a" stroke-width="0.95" />
<line x1="141.2" y1="136.13" x2="141.2" y2="141.58" stroke="#4a4a4a" stroke-width="0.95" />
<line x1="139.8" y1="136.13" x2="142.6" y2="136.13" stroke="#4a4a4a" stroke-width="0.95" />
<line x1="139.8" y1="141.58" x2="142.6" y2="141.58" stroke="#4a4a4a" stroke-width="0.95" />
<line x1="144.3" y1="135.27" x2="144.3" y2="140.88" stroke="#4a4a4a" stroke-width="0.95" />
<line x1="142.9" y1="135.27" x2="145.7" y2="135.27" stroke="#4a4a4a" stroke-width="0.95" />
<line x1="142.9" y1="140.88" x2="145.7" y2="140.88" stroke="#4a4a4a" stroke-width="0.95" />
<line x1="147.4" y1="134.81" x2="147.4" y2="140.57" stroke="#4a4a4a" stroke-width="0.95" />
<line x1="146" y1="134.81" x2="148.8" y2="134.81" stroke="#4a4a4a" stroke-width="0.95" />
<line x1="146" y1="140.57" x2="148.8" y2="140.57" stroke="#4a4a4a" stroke-width="0.95" />
<line x1="150.5" y1="134.72" x2="150.5" y2="140.64" stroke="#4a4a4a" stroke-width="0.95" />
<line x1="149.1" y1="134.72" x2="151.9" y2="134.72" stroke="#4a4a4a" stroke-width="0.95" />
<line x1="149.1" y1="140.64" x2="151.9" y2="140.64" stroke="#4a4a4a" stroke-width="0.95" />
<line x1="153.6" y1="134.24" x2="153.6" y2="140.32" stroke="#4a4a4a" stroke-width="0.95" />
<line x1="152.2" y1="134.24" x2="155" y2="134.24" stroke="#4a4a4a" stroke-width="0.95" />
<line x1="152.2" y1="140.32" x2="155" y2="140.32" stroke="#4a4a4a" stroke-width="0.95" />
<line x1="156.7" y1="134.42" x2="156.7" y2="140.66" stroke="#4a4a4a" stroke-width="0.95" />
<line x1="155.3" y1="134.42" x2="158.1" y2="134.42" stroke="#4a4a4a" stroke-width="0.95" />
<line x1="155.3" y1="140.66" x2="158.1" y2="140.66" stroke="#4a4a4a" stroke-width="0.95" />
<line x1="159.8" y1="134.63" x2="159.8" y2="141.03" stroke="#4a4a4a" stroke-width="0.95" />
<line x1="158.4" y1="134.63" x2="161.2" y2="134.63" stroke="#4a4a4a" stroke-width="0.95" />
<line x1="158.4" y1="141.03" x2="161.2" y2="141.03" stroke="#4a4a4a" stroke-width="0.95" />
<line x1="162.9" y1="134.68" x2="162.9" y2="141.23" stroke="#4a4a4a" stroke-width="0.95" />
<line x1="161.5" y1="134.68" x2="164.3" y2="134.68" stroke="#4a4a4a" stroke-width="0.95" />
<line x1="161.5" y1="141.23" x2="164.3" y2="141.23" stroke="#4a4a4a" stroke-width="0.95" />
<line x1="166" y1="134.41" x2="166" y2="141.12" stroke="#4a4a4a" stroke-width="0.95" />
<line x1="164.6" y1="134.41" x2="167.4" y2="134.41" stroke="#4a4a4a" stroke-width="0.95" />
<line x1="164.6" y1="141.12" x2="167.4" y2="141.12" stroke="#4a4a4a" stroke-width="0.95" />
<line x1="169.1" y1="134.4" x2="169.1" y2="141.27" stroke="#4a4a4a" stroke-width="0.95" />
<line x1="167.7" y1="134.4" x2="170.5" y2="134.4" stroke="#4a4a4a" stroke-width="0.95" />
<line x1="167.7" y1="141.27" x2="170.5" y2="141.27" stroke="#4a4a4a" stroke-width="0.95" />
<line x1="172.2" y1="134.37" x2="172.2" y2="141.4" stroke="#4a4a4a" stroke-width="0.95" />
<line x1="170.8" y1="134.37" x2="173.6" y2="134.37" stroke="#4a4a4a" stroke-width="0.95" />
<line x1="170.8" y1="141.4" x2="173.6" y2="141.4" stroke="#4a4a4a" stroke-width="0.95" />
<line x1="175.3" y1="134.61" x2="175.3" y2="141.79" stroke="#4a4a4a" stroke-width="0.95" />
<line x1="173.9" y1="134.61" x2="176.7" y2="134.61" stroke="#4a4a4a" stroke-width="0.95" />
<line x1="173.9" y1="141.79" x2="176.7" y2="141.79" stroke="#4a4a4a" stroke-width="0.95" />
<line x1="178.4" y1="134.46" x2="178.4" y2="141.81" stroke="#4a4a4a" stroke-width="0.95" />
<line x1="177" y1="134.46" x2="179.8" y2="134.46" stroke="#4a4a4a" stroke-width="0.95" />
<line x1="177" y1="141.81" x2="179.8" y2="141.81" stroke="#4a4a4a" stroke-width="0.95" />
<line x1="181.5" y1="134.45" x2="181.5" y2="141.95" stroke="#4a4a4a" stroke-width="0.95" />
<line x1="180.1" y1="134.45" x2="182.9" y2="134.45" stroke="#4a4a4a" stroke-width="0.95" />
<line x1="180.1" y1="141.95" x2="182.9" y2="141.95" stroke="#4a4a4a" stroke-width="0.95" />
<line x1="184.6" y1="135.52" x2="184.6" y2="143.18" stroke="#4a4a4a" stroke-width="0.95" />
<line x1="183.2" y1="135.52" x2="186" y2="135.52" stroke="#4a4a4a" stroke-width="0.95" />
<line x1="183.2" y1="143.18" x2="186" y2="143.18" stroke="#4a4a4a" stroke-width="0.95" />
<line x1="187.7" y1="135.49" x2="187.7" y2="143.31" stroke="#4a4a4a" stroke-width="0.95" />
<line x1="186.3" y1="135.49" x2="189.1" y2="135.49" stroke="#4a4a4a" stroke-width="0.95" />
<line x1="186.3" y1="143.31" x2="189.1" y2="143.31" stroke="#4a4a4a" stroke-width="0.95" />
<line x1="190.8" y1="135.84" x2="190.8" y2="143.81" stroke="#4a4a4a" stroke-width="0.95" />
<line x1="189.4" y1="135.84" x2="192.2" y2="135.84" stroke="#4a4a4a" stroke-width="0.95" />
<line x1="189.4" y1="143.81" x2="192.2" y2="143.81" stroke="#4a4a4a" stroke-width="0.95" />
<line x1="193.9" y1="135.64" x2="193.9" y2="143.77" stroke="#4a4a4a" stroke-width="0.95" />
<line x1="192.5" y1="135.64" x2="195.3" y2="135.64" stroke="#4a4a4a" stroke-width="0.95" />
<line x1="192.5" y1="143.77" x2="195.3" y2="143.77" stroke="#4a4a4a" stroke-width="0.95" />
<line x1="197" y1="136.7" x2="197" y2="144.99" stroke="#4a4a4a" stroke-width="0.95" />
<line x1="195.6" y1="136.7" x2="198.4" y2="136.7" stroke="#4a4a4a" stroke-width="0.95" />
<line x1="195.6" y1="144.99" x2="198.4" y2="144.99" stroke="#4a4a4a" stroke-width="0.95" />
<line x1="200.1" y1="136.82" x2="200.1" y2="145.27" stroke="#4a4a4a" stroke-width="0.95" />
<line x1="198.7" y1="136.82" x2="201.5" y2="136.82" stroke="#4a4a4a" stroke-width="0.95" />
<line x1="198.7" y1="145.27" x2="201.5" y2="145.27" stroke="#4a4a4a" stroke-width="0.95" />
<polyline points="73,110.53 76.1,111.68 79.2,112.02 82.3,111.94 85.4,112.61 88.5,112.99 91.6,113.62 94.7,114.19 97.8,113.92 100.9,114.29 104,117.57 107.1,119.98 110.2,123.7 113.3,126.33 116.4,129.28 119.5,130.69 122.6,131.79 125.7,134.95 128.8,137.15 131.9,136.76 135,137.24 138.1,138.24 141.2,138.85 144.3,138.08 147.4,137.69 150.5,137.68 153.6,137.28 156.7,137.54 159.8,137.83 162.9,137.96 166,137.76 169.1,137.83 172.2,137.89 175.3,138.2 178.4,138.13 181.5,138.2 184.6,139.35 187.7,139.4 190.8,139.82 193.9,139.7 197,140.84 200.1,141.05" fill="none" stroke="#1b8fe6" stroke-width="1.8" stroke-linejoin="round" />
<line x1="73" y1="111.23" x2="73" y2="113.63" stroke="#4a4a4a" stroke-width="0.95" />
<line x1="71.6" y1="111.23" x2="74.4" y2="111.23" stroke="#4a4a4a" stroke-width="0.95" />
<line x1="71.6" y1="113.63" x2="74.4" y2="113.63" stroke="#4a4a4a" stroke-width="0.95" />
<line x1="76.1" y1="112.03" x2="76.1" y2="114.43" stroke="#4a4a4a" stroke-width="0.95" />
<line x1="74.7" y1="112.03" x2="77.5" y2="112.03" stroke="#4a4a4a" stroke-width="0.95" />
<line x1="74.7" y1="114.43" x2="77.5" y2="114.43" stroke="#4a4a4a" stroke-width="0.95" />
<line x1="79.2" y1="112.02" x2="79.2" y2="114.42" stroke="#4a4a4a" stroke-width="0.95" />
<line x1="77.8" y1="112.02" x2="80.6" y2="112.02" stroke="#4a4a4a" stroke-width="0.95" />
<line x1="77.8" y1="114.42" x2="80.6" y2="114.42" stroke="#4a4a4a" stroke-width="0.95" />
<line x1="82.3" y1="111.6" x2="82.3" y2="114" stroke="#4a4a4a" stroke-width="0.95" />
<line x1="80.9" y1="111.6" x2="83.7" y2="111.6" stroke="#4a4a4a" stroke-width="0.95" />
<line x1="80.9" y1="114" x2="83.7" y2="114" stroke="#4a4a4a" stroke-width="0.95" />
<line x1="85.4" y1="111.92" x2="85.4" y2="114.32" stroke="#4a4a4a" stroke-width="0.95" />
<line x1="84" y1="111.92" x2="86.8" y2="111.92" stroke="#4a4a4a" stroke-width="0.95" />
<line x1="84" y1="114.32" x2="86.8" y2="114.32" stroke="#4a4a4a" stroke-width="0.95" />
<line x1="88.5" y1="111.95" x2="88.5" y2="114.35" stroke="#4a4a4a" stroke-width="0.95" />
<line x1="87.1" y1="111.95" x2="89.9" y2="111.95" stroke="#4a4a4a" stroke-width="0.95" />
<line x1="87.1" y1="114.35" x2="89.9" y2="114.35" stroke="#4a4a4a" stroke-width="0.95" />
<line x1="91.6" y1="112.23" x2="91.6" y2="114.63" stroke="#4a4a4a" stroke-width="0.95" />
<line x1="90.2" y1="112.23" x2="93" y2="112.23" stroke="#4a4a4a" stroke-width="0.95" />
<line x1="90.2" y1="114.63" x2="93" y2="114.63" stroke="#4a4a4a" stroke-width="0.95" />
<line x1="94.7" y1="112.45" x2="94.7" y2="114.85" stroke="#4a4a4a" stroke-width="0.95" />
<line x1="93.3" y1="112.45" x2="96.1" y2="112.45" stroke="#4a4a4a" stroke-width="0.95" />
<line x1="93.3" y1="114.85" x2="96.1" y2="114.85" stroke="#4a4a4a" stroke-width="0.95" />
<line x1="97.8" y1="111.84" x2="97.8" y2="114.24" stroke="#4a4a4a" stroke-width="0.95" />
<line x1="96.4" y1="111.84" x2="99.2" y2="111.84" stroke="#4a4a4a" stroke-width="0.95" />
<line x1="96.4" y1="114.24" x2="99.2" y2="114.24" stroke="#4a4a4a" stroke-width="0.95" />
<line x1="100.9" y1="111.72" x2="100.9" y2="114.12" stroke="#4a4a4a" stroke-width="0.95" />
<line x1="99.5" y1="111.72" x2="102.3" y2="111.72" stroke="#4a4a4a" stroke-width="0.95" />
<line x1="99.5" y1="114.12" x2="102.3" y2="114.12" stroke="#4a4a4a" stroke-width="0.95" />
<line x1="104" y1="112.16" x2="104" y2="114.56" stroke="#4a4a4a" stroke-width="0.95" />
<line x1="102.6" y1="112.16" x2="105.4" y2="112.16" stroke="#4a4a4a" stroke-width="0.95" />
<line x1="102.6" y1="114.56" x2="105.4" y2="114.56" stroke="#4a4a4a" stroke-width="0.95" />
<line x1="107.1" y1="112.51" x2="107.1" y2="115.62" stroke="#4a4a4a" stroke-width="0.95" />
<line x1="105.7" y1="112.51" x2="108.5" y2="112.51" stroke="#4a4a4a" stroke-width="0.95" />
<line x1="105.7" y1="115.62" x2="108.5" y2="115.62" stroke="#4a4a4a" stroke-width="0.95" />
<line x1="110.2" y1="116.2" x2="110.2" y2="119.46" stroke="#4a4a4a" stroke-width="0.95" />
<line x1="108.8" y1="116.2" x2="111.6" y2="116.2" stroke="#4a4a4a" stroke-width="0.95" />
<line x1="108.8" y1="119.46" x2="111.6" y2="119.46" stroke="#4a4a4a" stroke-width="0.95" />
<line x1="113.3" y1="116.48" x2="113.3" y2="119.9" stroke="#4a4a4a" stroke-width="0.95" />
<line x1="111.9" y1="116.48" x2="114.7" y2="116.48" stroke="#4a4a4a" stroke-width="0.95" />
<line x1="111.9" y1="119.9" x2="114.7" y2="119.9" stroke="#4a4a4a" stroke-width="0.95" />
<line x1="116.4" y1="117.72" x2="116.4" y2="121.3" stroke="#4a4a4a" stroke-width="0.95" />
<line x1="115" y1="117.72" x2="117.8" y2="117.72" stroke="#4a4a4a" stroke-width="0.95" />
<line x1="115" y1="121.3" x2="117.8" y2="121.3" stroke="#4a4a4a" stroke-width="0.95" />
<line x1="119.5" y1="118.79" x2="119.5" y2="122.53" stroke="#4a4a4a" stroke-width="0.95" />
<line x1="118.1" y1="118.79" x2="120.9" y2="118.79" stroke="#4a4a4a" stroke-width="0.95" />
<line x1="118.1" y1="122.53" x2="120.9" y2="122.53" stroke="#4a4a4a" stroke-width="0.95" />
<line x1="122.6" y1="118.74" x2="122.6" y2="122.64" stroke="#4a4a4a" stroke-width="0.95" />
<line x1="121.2" y1="118.74" x2="124" y2="118.74" stroke="#4a4a4a" stroke-width="0.95" />
<line x1="121.2" y1="122.64" x2="124" y2="122.64" stroke="#4a4a4a" stroke-width="0.95" />
<line x1="125.7" y1="119.26" x2="125.7" y2="123.31" stroke="#4a4a4a" stroke-width="0.95" />
<line x1="124.3" y1="119.26" x2="127.1" y2="119.26" stroke="#4a4a4a" stroke-width="0.95" />
<line x1="124.3" y1="123.31" x2="127.1" y2="123.31" stroke="#4a4a4a" stroke-width="0.95" />
<line x1="128.8" y1="119.02" x2="128.8" y2="123.23" stroke="#4a4a4a" stroke-width="0.95" />
<line x1="127.4" y1="119.02" x2="130.2" y2="119.02" stroke="#4a4a4a" stroke-width="0.95" />
<line x1="127.4" y1="123.23" x2="130.2" y2="123.23" stroke="#4a4a4a" stroke-width="0.95" />
<line x1="131.9" y1="117.95" x2="131.9" y2="122.32" stroke="#4a4a4a" stroke-width="0.95" />
<line x1="130.5" y1="117.95" x2="133.3" y2="117.95" stroke="#4a4a4a" stroke-width="0.95" />
<line x1="130.5" y1="122.32" x2="133.3" y2="122.32" stroke="#4a4a4a" stroke-width="0.95" />
<line x1="135" y1="117.75" x2="135" y2="122.28" stroke="#4a4a4a" stroke-width="0.95" />
<line x1="133.6" y1="117.75" x2="136.4" y2="117.75" stroke="#4a4a4a" stroke-width="0.95" />
<line x1="133.6" y1="122.28" x2="136.4" y2="122.28" stroke="#4a4a4a" stroke-width="0.95" />
<line x1="138.1" y1="118.07" x2="138.1" y2="122.76" stroke="#4a4a4a" stroke-width="0.95" />
<line x1="136.7" y1="118.07" x2="139.5" y2="118.07" stroke="#4a4a4a" stroke-width="0.95" />
<line x1="136.7" y1="122.76" x2="139.5" y2="122.76" stroke="#4a4a4a" stroke-width="0.95" />
<line x1="141.2" y1="118.34" x2="141.2" y2="123.18" stroke="#4a4a4a" stroke-width="0.95" />
<line x1="139.8" y1="118.34" x2="142.6" y2="118.34" stroke="#4a4a4a" stroke-width="0.95" />
<line x1="139.8" y1="123.18" x2="142.6" y2="123.18" stroke="#4a4a4a" stroke-width="0.95" />
<line x1="144.3" y1="117.76" x2="144.3" y2="122.76" stroke="#4a4a4a" stroke-width="0.95" />
<line x1="142.9" y1="117.76" x2="145.7" y2="117.76" stroke="#4a4a4a" stroke-width="0.95" />
<line x1="142.9" y1="122.76" x2="145.7" y2="122.76" stroke="#4a4a4a" stroke-width="0.95" />
<line x1="147.4" y1="117.57" x2="147.4" y2="122.73" stroke="#4a4a4a" stroke-width="0.95" />
<line x1="146" y1="117.57" x2="148.8" y2="117.57" stroke="#4a4a4a" stroke-width="0.95" />
<line x1="146" y1="122.73" x2="148.8" y2="122.73" stroke="#4a4a4a" stroke-width="0.95" />
<line x1="150.5" y1="117.75" x2="150.5" y2="123.07" stroke="#4a4a4a" stroke-width="0.95" />
<line x1="149.1" y1="117.75" x2="151.9" y2="117.75" stroke="#4a4a4a" stroke-width="0.95" />
<line x1="149.1" y1="123.07" x2="151.9" y2="123.07" stroke="#4a4a4a" stroke-width="0.95" />
<line x1="153.6" y1="117.18" x2="153.6" y2="122.66" stroke="#4a4a4a" stroke-width="0.95" />
<line x1="152.2" y1="117.18" x2="155" y2="117.18" stroke="#4a4a4a" stroke-width="0.95" />
<line x1="152.2" y1="122.66" x2="155" y2="122.66" stroke="#4a4a4a" stroke-width="0.95" />
<line x1="156.7" y1="117.16" x2="156.7" y2="122.8" stroke="#4a4a4a" stroke-width="0.95" />
<line x1="155.3" y1="117.16" x2="158.1" y2="117.16" stroke="#4a4a4a" stroke-width="0.95" />
<line x1="155.3" y1="122.8" x2="158.1" y2="122.8" stroke="#4a4a4a" stroke-width="0.95" />
<line x1="159.8" y1="117.17" x2="159.8" y2="122.96" stroke="#4a4a4a" stroke-width="0.95" />
<line x1="158.4" y1="117.17" x2="161.2" y2="117.17" stroke="#4a4a4a" stroke-width="0.95" />
<line x1="158.4" y1="122.96" x2="161.2" y2="122.96" stroke="#4a4a4a" stroke-width="0.95" />
<line x1="162.9" y1="117.02" x2="162.9" y2="122.97" stroke="#4a4a4a" stroke-width="0.95" />
<line x1="161.5" y1="117.02" x2="164.3" y2="117.02" stroke="#4a4a4a" stroke-width="0.95" />
<line x1="161.5" y1="122.97" x2="164.3" y2="122.97" stroke="#4a4a4a" stroke-width="0.95" />
<line x1="166" y1="116.54" x2="166" y2="122.65" stroke="#4a4a4a" stroke-width="0.95" />
<line x1="164.6" y1="116.54" x2="167.4" y2="116.54" stroke="#4a4a4a" stroke-width="0.95" />
<line x1="164.6" y1="122.65" x2="167.4" y2="122.65" stroke="#4a4a4a" stroke-width="0.95" />
<line x1="169.1" y1="116.33" x2="169.1" y2="122.6" stroke="#4a4a4a" stroke-width="0.95" />
<line x1="167.7" y1="116.33" x2="170.5" y2="116.33" stroke="#4a4a4a" stroke-width="0.95" />
<line x1="167.7" y1="122.6" x2="170.5" y2="122.6" stroke="#4a4a4a" stroke-width="0.95" />
<line x1="172.2" y1="116.11" x2="172.2" y2="122.54" stroke="#4a4a4a" stroke-width="0.95" />
<line x1="170.8" y1="116.11" x2="173.6" y2="116.11" stroke="#4a4a4a" stroke-width="0.95" />
<line x1="170.8" y1="122.54" x2="173.6" y2="122.54" stroke="#4a4a4a" stroke-width="0.95" />
<line x1="175.3" y1="116.14" x2="175.3" y2="122.72" stroke="#4a4a4a" stroke-width="0.95" />
<line x1="173.9" y1="116.14" x2="176.7" y2="116.14" stroke="#4a4a4a" stroke-width="0.95" />
<line x1="173.9" y1="122.72" x2="176.7" y2="122.72" stroke="#4a4a4a" stroke-width="0.95" />
<line x1="178.4" y1="115.76" x2="178.4" y2="122.5" stroke="#4a4a4a" stroke-width="0.95" />
<line x1="177" y1="115.76" x2="179.8" y2="115.76" stroke="#4a4a4a" stroke-width="0.95" />
<line x1="177" y1="122.5" x2="179.8" y2="122.5" stroke="#4a4a4a" stroke-width="0.95" />
<line x1="181.5" y1="115.28" x2="181.5" y2="122.18" stroke="#4a4a4a" stroke-width="0.95" />
<line x1="180.1" y1="115.28" x2="182.9" y2="115.28" stroke="#4a4a4a" stroke-width="0.95" />
<line x1="180.1" y1="122.18" x2="182.9" y2="122.18" stroke="#4a4a4a" stroke-width="0.95" />
<line x1="184.6" y1="115.89" x2="184.6" y2="122.95" stroke="#4a4a4a" stroke-width="0.95" />
<line x1="183.2" y1="115.89" x2="186" y2="115.89" stroke="#4a4a4a" stroke-width="0.95" />
<line x1="183.2" y1="122.95" x2="186" y2="122.95" stroke="#4a4a4a" stroke-width="0.95" />
<line x1="187.7" y1="115.39" x2="187.7" y2="122.61" stroke="#4a4a4a" stroke-width="0.95" />
<line x1="186.3" y1="115.39" x2="189.1" y2="115.39" stroke="#4a4a4a" stroke-width="0.95" />
<line x1="186.3" y1="122.61" x2="189.1" y2="122.61" stroke="#4a4a4a" stroke-width="0.95" />
<line x1="190.8" y1="115.27" x2="190.8" y2="122.65" stroke="#4a4a4a" stroke-width="0.95" />
<line x1="189.4" y1="115.27" x2="192.2" y2="115.27" stroke="#4a4a4a" stroke-width="0.95" />
<line x1="189.4" y1="122.65" x2="192.2" y2="122.65" stroke="#4a4a4a" stroke-width="0.95" />
<line x1="193.9" y1="114.6" x2="193.9" y2="122.14" stroke="#4a4a4a" stroke-width="0.95" />
<line x1="192.5" y1="114.6" x2="195.3" y2="114.6" stroke="#4a4a4a" stroke-width="0.95" />
<line x1="192.5" y1="122.14" x2="195.3" y2="122.14" stroke="#4a4a4a" stroke-width="0.95" />
<line x1="197" y1="115.2" x2="197" y2="122.89" stroke="#4a4a4a" stroke-width="0.95" />
<line x1="195.6" y1="115.2" x2="198.4" y2="115.2" stroke="#4a4a4a" stroke-width="0.95" />
<line x1="195.6" y1="122.89" x2="198.4" y2="122.89" stroke="#4a4a4a" stroke-width="0.95" />
<line x1="200.1" y1="114.86" x2="200.1" y2="122.71" stroke="#4a4a4a" stroke-width="0.95" />
<line x1="198.7" y1="114.86" x2="201.5" y2="114.86" stroke="#4a4a4a" stroke-width="0.95" />
<line x1="198.7" y1="122.71" x2="201.5" y2="122.71" stroke="#4a4a4a" stroke-width="0.95" />
<polyline points="73,112.43 76.1,113.23 79.2,113.22 82.3,112.8 85.4,113.12 88.5,113.15 91.6,113.43 94.7,113.65 97.8,113.04 100.9,112.92 104,113.36 107.1,114.06 110.2,117.83 113.3,118.19 116.4,119.51 119.5,120.66 122.6,120.69 125.7,121.29 128.8,121.13 131.9,120.14 135,120.01 138.1,120.41 141.2,120.76 144.3,120.26 147.4,120.15 150.5,120.41 153.6,119.92 156.7,119.98 159.8,120.07 162.9,119.99 166,119.6 169.1,119.47 172.2,119.32 175.3,119.43 178.4,119.13 181.5,118.73 184.6,119.42 187.7,119 190.8,118.96 193.9,118.37 197,119.05 200.1,118.78" fill="none" stroke="#f21515" stroke-width="2.2" stroke-linejoin="round" />
<circle cx="106" cy="150.6" r="1.45" fill="#333"/>
<circle cx="110.34" cy="150.6" r="1.45" fill="#333"/>
<circle cx="114.67" cy="150.6" r="1.45" fill="#333"/>
<circle cx="119.01" cy="150.6" r="1.45" fill="#333"/>
<circle cx="123.35" cy="150.6" r="1.45" fill="#333"/>
<circle cx="127.68" cy="150.6" r="1.45" fill="#333"/>
<circle cx="132.02" cy="150.6" r="1.45" fill="#333"/>
<circle cx="136.35" cy="150.6" r="1.45" fill="#333"/>
<circle cx="140.69" cy="150.6" r="1.45" fill="#333"/>
<circle cx="145.03" cy="150.6" r="1.45" fill="#333"/>
<circle cx="149.36" cy="150.6" r="1.45" fill="#333"/>
<circle cx="153.7" cy="150.6" r="1.45" fill="#333"/>
<circle cx="158.04" cy="150.6" r="1.45" fill="#333"/>
<circle cx="162.37" cy="150.6" r="1.45" fill="#333"/>
<circle cx="166.71" cy="150.6" r="1.45" fill="#333"/>
<circle cx="171.05" cy="150.6" r="1.45" fill="#333"/>
<circle cx="175.38" cy="150.6" r="1.45" fill="#333"/>
<circle cx="179.72" cy="150.6" r="1.45" fill="#333"/>
<circle cx="184.05" cy="150.6" r="1.45" fill="#333"/>
<circle cx="188.39" cy="150.6" r="1.45" fill="#333"/>
<circle cx="192.73" cy="150.6" r="1.45" fill="#333"/>
<circle cx="197.06" cy="150.6" r="1.45" fill="#333"/>
<circle cx="201.4" cy="150.6" r="1.45" fill="#333"/>
<line x1="96.2" y1="159.5" x2="147.7" y2="159.5" stroke="#000" stroke-width="1.3" />
<text x="104" y="171.3" font-size="10.4" fill="#111" text-anchor="start" font-weight="normal" textLength="35.5" lengthAdjust="spacingAndGlyphs">200 sec</text>
<text x="176.5" y="109.5" font-size="8.6" fill="#f21515" text-anchor="start" font-weight="bold" >MCU<tspan font-size="7" dy="-3.2">-/-</tspan></text>
<text x="176.5" y="132.7" font-size="8.6" fill="#1b8fe6" text-anchor="start" font-weight="bold" >MCU<tspan font-size="7" dy="-3.2">+/+</tspan></text>
<line x1="277" y1="17" x2="277" y2="158.5" stroke="#000" stroke-width="2.2" />
<line x1="273.5" y1="17.5" x2="277" y2="17.5" stroke="#000" stroke-width="2" />
<text x="268.5" y="21.3" font-size="10.5" fill="#6b6b6b" text-anchor="end" font-weight="normal" >1.4</text>
<line x1="273.5" y1="45.8" x2="277" y2="45.8" stroke="#000" stroke-width="2" />
<text x="268.5" y="49.6" font-size="10.5" fill="#6b6b6b" text-anchor="end" font-weight="normal" >1.3</text>
<line x1="273.5" y1="73.8" x2="277" y2="73.8" stroke="#000" stroke-width="2" />
<text x="268.5" y="77.6" font-size="10.5" fill="#6b6b6b" text-anchor="end" font-weight="normal" >1.2</text>
<line x1="273.5" y1="102" x2="277" y2="102" stroke="#000" stroke-width="2" />
<text x="268.5" y="105.8" font-size="10.5" fill="#6b6b6b" text-anchor="end" font-weight="normal" >1.1</text>
<line x1="273.5" y1="130" x2="277" y2="130" stroke="#000" stroke-width="2" />
<text x="268.5" y="133.8" font-size="10.5" fill="#6b6b6b" text-anchor="end" font-weight="normal" >1</text>
<line x1="273.5" y1="158" x2="277" y2="158" stroke="#000" stroke-width="2" />
<text x="268.5" y="161.8" font-size="10.5" fill="#6b6b6b" text-anchor="end" font-weight="normal" >0.9</text>
<text x="247.4" y="90.7" font-size="11.8" fill="#222" text-anchor="middle" font-weight="normal" transform="rotate(-90 247.4 90.7)" >NADH/FAD</text>
<text x="306" y="21.7" font-size="11.8" fill="#111" text-anchor="start" font-weight="normal" >CCK</text>
<line x1="304" y1="24.9" x2="408" y2="24.9" stroke="#000" stroke-width="2.2" />
<line x1="278" y1="126.93" x2="278" y2="129.53" stroke="#4a4a4a" stroke-width="0.95" />
<line x1="276.6" y1="126.93" x2="279.4" y2="126.93" stroke="#4a4a4a" stroke-width="0.95" />
<line x1="276.6" y1="129.53" x2="279.4" y2="129.53" stroke="#4a4a4a" stroke-width="0.95" />
<line x1="281.1" y1="127.72" x2="281.1" y2="130.32" stroke="#4a4a4a" stroke-width="0.95" />
<line x1="279.7" y1="127.72" x2="282.5" y2="127.72" stroke="#4a4a4a" stroke-width="0.95" />
<line x1="279.7" y1="130.32" x2="282.5" y2="130.32" stroke="#4a4a4a" stroke-width="0.95" />
<line x1="284.2" y1="127.71" x2="284.2" y2="130.31" stroke="#4a4a4a" stroke-width="0.95" />
<line x1="282.8" y1="127.71" x2="285.6" y2="127.71" stroke="#4a4a4a" stroke-width="0.95" />
<line x1="282.8" y1="130.31" x2="285.6" y2="130.31" stroke="#4a4a4a" stroke-width="0.95" />
<line x1="287.3" y1="127.27" x2="287.3" y2="129.87" stroke="#4a4a4a" stroke-width="0.95" />
<line x1="285.9" y1="127.27" x2="288.7" y2="127.27" stroke="#4a4a4a" stroke-width="0.95" />
<line x1="285.9" y1="129.87" x2="288.7" y2="129.87" stroke="#4a4a4a" stroke-width="0.95" />
<line x1="290.4" y1="127.59" x2="290.4" y2="130.19" stroke="#4a4a4a" stroke-width="0.95" />
<line x1="289" y1="127.59" x2="291.8" y2="127.59" stroke="#4a4a4a" stroke-width="0.95" />
<line x1="289" y1="130.19" x2="291.8" y2="130.19" stroke="#4a4a4a" stroke-width="0.95" />
<line x1="293.5" y1="127.61" x2="293.5" y2="130.21" stroke="#4a4a4a" stroke-width="0.95" />
<line x1="292.1" y1="127.61" x2="294.9" y2="127.61" stroke="#4a4a4a" stroke-width="0.95" />
<line x1="292.1" y1="130.21" x2="294.9" y2="130.21" stroke="#4a4a4a" stroke-width="0.95" />
<line x1="296.6" y1="127.85" x2="296.6" y2="130.45" stroke="#4a4a4a" stroke-width="0.95" />
<line x1="295.2" y1="127.85" x2="298" y2="127.85" stroke="#4a4a4a" stroke-width="0.95" />
<line x1="295.2" y1="130.45" x2="298" y2="130.45" stroke="#4a4a4a" stroke-width="0.95" />
<line x1="299.7" y1="127.99" x2="299.7" y2="130.59" stroke="#4a4a4a" stroke-width="0.95" />
<line x1="298.3" y1="127.99" x2="301.1" y2="127.99" stroke="#4a4a4a" stroke-width="0.95" />
<line x1="298.3" y1="130.59" x2="301.1" y2="130.59" stroke="#4a4a4a" stroke-width="0.95" />
<line x1="302.8" y1="127.29" x2="302.8" y2="129.89" stroke="#4a4a4a" stroke-width="0.95" />
<line x1="301.4" y1="127.29" x2="304.2" y2="127.29" stroke="#4a4a4a" stroke-width="0.95" />
<line x1="301.4" y1="129.89" x2="304.2" y2="129.89" stroke="#4a4a4a" stroke-width="0.95" />
<line x1="305.9" y1="127.23" x2="305.9" y2="129.83" stroke="#4a4a4a" stroke-width="0.95" />
<line x1="304.5" y1="127.23" x2="307.3" y2="127.23" stroke="#4a4a4a" stroke-width="0.95" />
<line x1="304.5" y1="129.83" x2="307.3" y2="129.83" stroke="#4a4a4a" stroke-width="0.95" />
<line x1="309" y1="122.4" x2="309" y2="131" stroke="#4a4a4a" stroke-width="0.95" />
<line x1="307.6" y1="122.4" x2="310.4" y2="122.4" stroke="#4a4a4a" stroke-width="0.95" />
<line x1="307.6" y1="131" x2="310.4" y2="131" stroke="#4a4a4a" stroke-width="0.95" />
<line x1="312.1" y1="108.38" x2="312.1" y2="116.98" stroke="#4a4a4a" stroke-width="0.95" />
<line x1="310.7" y1="108.38" x2="313.5" y2="108.38" stroke="#4a4a4a" stroke-width="0.95" />
<line x1="310.7" y1="116.98" x2="313.5" y2="116.98" stroke="#4a4a4a" stroke-width="0.95" />
<line x1="315.2" y1="95.04" x2="315.2" y2="103.64" stroke="#4a4a4a" stroke-width="0.95" />
<line x1="313.8" y1="95.04" x2="316.6" y2="95.04" stroke="#4a4a4a" stroke-width="0.95" />
<line x1="313.8" y1="103.64" x2="316.6" y2="103.64" stroke="#4a4a4a" stroke-width="0.95" />
<line x1="318.3" y1="80.06" x2="318.3" y2="88.66" stroke="#4a4a4a" stroke-width="0.95" />
<line x1="316.9" y1="80.06" x2="319.7" y2="80.06" stroke="#4a4a4a" stroke-width="0.95" />
<line x1="316.9" y1="88.66" x2="319.7" y2="88.66" stroke="#4a4a4a" stroke-width="0.95" />
<line x1="321.4" y1="66.28" x2="321.4" y2="74.88" stroke="#4a4a4a" stroke-width="0.95" />
<line x1="320" y1="66.28" x2="322.8" y2="66.28" stroke="#4a4a4a" stroke-width="0.95" />
<line x1="320" y1="74.88" x2="322.8" y2="74.88" stroke="#4a4a4a" stroke-width="0.95" />
<line x1="324.5" y1="59.83" x2="324.5" y2="68.43" stroke="#4a4a4a" stroke-width="0.95" />
<line x1="323.1" y1="59.83" x2="325.9" y2="59.83" stroke="#4a4a4a" stroke-width="0.95" />
<line x1="323.1" y1="68.43" x2="325.9" y2="68.43" stroke="#4a4a4a" stroke-width="0.95" />
<line x1="327.6" y1="51.33" x2="327.6" y2="59.93" stroke="#4a4a4a" stroke-width="0.95" />
<line x1="326.2" y1="51.33" x2="329" y2="51.33" stroke="#4a4a4a" stroke-width="0.95" />
<line x1="326.2" y1="59.93" x2="329" y2="59.93" stroke="#4a4a4a" stroke-width="0.95" />
<line x1="330.7" y1="43.58" x2="330.7" y2="52.18" stroke="#4a4a4a" stroke-width="0.95" />
<line x1="329.3" y1="43.58" x2="332.1" y2="43.58" stroke="#4a4a4a" stroke-width="0.95" />
<line x1="329.3" y1="52.18" x2="332.1" y2="52.18" stroke="#4a4a4a" stroke-width="0.95" />
<line x1="333.8" y1="35.07" x2="333.8" y2="43.67" stroke="#4a4a4a" stroke-width="0.95" />
<line x1="332.4" y1="35.07" x2="335.2" y2="35.07" stroke="#4a4a4a" stroke-width="0.95" />
<line x1="332.4" y1="43.67" x2="335.2" y2="43.67" stroke="#4a4a4a" stroke-width="0.95" />
<line x1="336.9" y1="31.88" x2="336.9" y2="40.48" stroke="#4a4a4a" stroke-width="0.95" />
<line x1="335.5" y1="31.88" x2="338.3" y2="31.88" stroke="#4a4a4a" stroke-width="0.95" />
<line x1="335.5" y1="40.48" x2="338.3" y2="40.48" stroke="#4a4a4a" stroke-width="0.95" />
<line x1="340" y1="30.75" x2="340" y2="39.35" stroke="#4a4a4a" stroke-width="0.95" />
<line x1="338.6" y1="30.75" x2="341.4" y2="30.75" stroke="#4a4a4a" stroke-width="0.95" />
<line x1="338.6" y1="39.35" x2="341.4" y2="39.35" stroke="#4a4a4a" stroke-width="0.95" />
<line x1="343.1" y1="29.86" x2="343.1" y2="39.01" stroke="#4a4a4a" stroke-width="0.95" />
<line x1="341.7" y1="29.86" x2="344.5" y2="29.86" stroke="#4a4a4a" stroke-width="0.95" />
<line x1="341.7" y1="39.01" x2="344.5" y2="39.01" stroke="#4a4a4a" stroke-width="0.95" />
<line x1="346.2" y1="29.71" x2="346.2" y2="39.42" stroke="#4a4a4a" stroke-width="0.95" />
<line x1="344.8" y1="29.71" x2="347.6" y2="29.71" stroke="#4a4a4a" stroke-width="0.95" />
<line x1="344.8" y1="39.42" x2="347.6" y2="39.42" stroke="#4a4a4a" stroke-width="0.95" />
<line x1="349.3" y1="29.97" x2="349.3" y2="40.24" stroke="#4a4a4a" stroke-width="0.95" />
<line x1="347.9" y1="29.97" x2="350.7" y2="29.97" stroke="#4a4a4a" stroke-width="0.95" />
<line x1="347.9" y1="40.24" x2="350.7" y2="40.24" stroke="#4a4a4a" stroke-width="0.95" />
<line x1="352.4" y1="31.1" x2="352.4" y2="41.93" stroke="#4a4a4a" stroke-width="0.95" />
<line x1="351" y1="31.1" x2="353.8" y2="31.1" stroke="#4a4a4a" stroke-width="0.95" />
<line x1="351" y1="41.93" x2="353.8" y2="41.93" stroke="#4a4a4a" stroke-width="0.95" />
<line x1="355.5" y1="33.78" x2="355.5" y2="45.17" stroke="#4a4a4a" stroke-width="0.95" />
<line x1="354.1" y1="33.78" x2="356.9" y2="33.78" stroke="#4a4a4a" stroke-width="0.95" />
<line x1="354.1" y1="45.17" x2="356.9" y2="45.17" stroke="#4a4a4a" stroke-width="0.95" />
<line x1="358.6" y1="35.58" x2="358.6" y2="47.52" stroke="#4a4a4a" stroke-width="0.95" />
<line x1="357.2" y1="35.58" x2="360" y2="35.58" stroke="#4a4a4a" stroke-width="0.95" />
<line x1="357.2" y1="47.52" x2="360" y2="47.52" stroke="#4a4a4a" stroke-width="0.95" />
<line x1="361.7" y1="37.91" x2="361.7" y2="50.41" stroke="#4a4a4a" stroke-width="0.95" />
<line x1="360.3" y1="37.91" x2="363.1" y2="37.91" stroke="#4a4a4a" stroke-width="0.95" />
<line x1="360.3" y1="50.41" x2="363.1" y2="50.41" stroke="#4a4a4a" stroke-width="0.95" />
<line x1="364.8" y1="40.26" x2="364.8" y2="53.32" stroke="#4a4a4a" stroke-width="0.95" />
<line x1="363.4" y1="40.26" x2="366.2" y2="40.26" stroke="#4a4a4a" stroke-width="0.95" />
<line x1="363.4" y1="53.32" x2="366.2" y2="53.32" stroke="#4a4a4a" stroke-width="0.95" />
<line x1="367.9" y1="42.45" x2="367.9" y2="56.07" stroke="#4a4a4a" stroke-width="0.95" />
<line x1="366.5" y1="42.45" x2="369.3" y2="42.45" stroke="#4a4a4a" stroke-width="0.95" />
<line x1="366.5" y1="56.07" x2="369.3" y2="56.07" stroke="#4a4a4a" stroke-width="0.95" />
<line x1="371" y1="44.09" x2="371" y2="58.26" stroke="#4a4a4a" stroke-width="0.95" />
<line x1="369.6" y1="44.09" x2="372.4" y2="44.09" stroke="#4a4a4a" stroke-width="0.95" />
<line x1="369.6" y1="58.26" x2="372.4" y2="58.26" stroke="#4a4a4a" stroke-width="0.95" />
<line x1="374.1" y1="45.48" x2="374.1" y2="60.21" stroke="#4a4a4a" stroke-width="0.95" />
<line x1="372.7" y1="45.48" x2="375.5" y2="45.48" stroke="#4a4a4a" stroke-width="0.95" />
<line x1="372.7" y1="60.21" x2="375.5" y2="60.21" stroke="#4a4a4a" stroke-width="0.95" />
<line x1="377.2" y1="46.86" x2="377.2" y2="62.15" stroke="#4a4a4a" stroke-width="0.95" />
<line x1="375.8" y1="46.86" x2="378.6" y2="46.86" stroke="#4a4a4a" stroke-width="0.95" />
<line x1="375.8" y1="62.15" x2="378.6" y2="62.15" stroke="#4a4a4a" stroke-width="0.95" />
<line x1="380.3" y1="48.5" x2="380.3" y2="64.34" stroke="#4a4a4a" stroke-width="0.95" />
<line x1="378.9" y1="48.5" x2="381.7" y2="48.5" stroke="#4a4a4a" stroke-width="0.95" />
<line x1="378.9" y1="64.34" x2="381.7" y2="64.34" stroke="#4a4a4a" stroke-width="0.95" />
<line x1="383.4" y1="49.73" x2="383.4" y2="66.13" stroke="#4a4a4a" stroke-width="0.95" />
<line x1="382" y1="49.73" x2="384.8" y2="49.73" stroke="#4a4a4a" stroke-width="0.95" />
<line x1="382" y1="66.13" x2="384.8" y2="66.13" stroke="#4a4a4a" stroke-width="0.95" />
<line x1="386.5" y1="50.85" x2="386.5" y2="67.81" stroke="#4a4a4a" stroke-width="0.95" />
<line x1="385.1" y1="50.85" x2="387.9" y2="50.85" stroke="#4a4a4a" stroke-width="0.95" />
<line x1="385.1" y1="67.81" x2="387.9" y2="67.81" stroke="#4a4a4a" stroke-width="0.95" />
<line x1="389.6" y1="53.06" x2="389.6" y2="70.58" stroke="#4a4a4a" stroke-width="0.95" />
<line x1="388.2" y1="53.06" x2="391" y2="53.06" stroke="#4a4a4a" stroke-width="0.95" />
<line x1="388.2" y1="70.58" x2="391" y2="70.58" stroke="#4a4a4a" stroke-width="0.95" />
<line x1="392.7" y1="53.67" x2="392.7" y2="71.74" stroke="#4a4a4a" stroke-width="0.95" />
<line x1="391.3" y1="53.67" x2="394.1" y2="53.67" stroke="#4a4a4a" stroke-width="0.95" />
<line x1="391.3" y1="71.74" x2="394.1" y2="71.74" stroke="#4a4a4a" stroke-width="0.95" />
<line x1="395.8" y1="54.57" x2="395.8" y2="73.2" stroke="#4a4a4a" stroke-width="0.95" />
<line x1="394.4" y1="54.57" x2="397.2" y2="54.57" stroke="#4a4a4a" stroke-width="0.95" />
<line x1="394.4" y1="73.2" x2="397.2" y2="73.2" stroke="#4a4a4a" stroke-width="0.95" />
<line x1="398.9" y1="54.93" x2="398.9" y2="74.12" stroke="#4a4a4a" stroke-width="0.95" />
<line x1="397.5" y1="54.93" x2="400.3" y2="54.93" stroke="#4a4a4a" stroke-width="0.95" />
<line x1="397.5" y1="74.12" x2="400.3" y2="74.12" stroke="#4a4a4a" stroke-width="0.95" />
<line x1="402" y1="56.55" x2="402" y2="76.3" stroke="#4a4a4a" stroke-width="0.95" />
<line x1="400.6" y1="56.55" x2="403.4" y2="56.55" stroke="#4a4a4a" stroke-width="0.95" />
<line x1="400.6" y1="76.3" x2="403.4" y2="76.3" stroke="#4a4a4a" stroke-width="0.95" />
<line x1="405.1" y1="57.24" x2="405.1" y2="77.53" stroke="#4a4a4a" stroke-width="0.95" />
<line x1="403.7" y1="57.24" x2="406.5" y2="57.24" stroke="#4a4a4a" stroke-width="0.95" />
<line x1="403.7" y1="77.53" x2="406.5" y2="77.53" stroke="#4a4a4a" stroke-width="0.95" />
<line x1="408.2" y1="57.31" x2="408.2" y2="78.17" stroke="#4a4a4a" stroke-width="0.95" />
<line x1="406.8" y1="57.31" x2="409.6" y2="57.31" stroke="#4a4a4a" stroke-width="0.95" />
<line x1="406.8" y1="78.17" x2="409.6" y2="78.17" stroke="#4a4a4a" stroke-width="0.95" />
<polyline points="278,128.23 281.1,129.02 284.2,129.01 287.3,128.57 290.4,128.89 293.5,128.91 296.6,129.15 299.7,129.29 302.8,128.59 305.9,128.53 309,126.7 312.1,112.68 315.2,99.34 318.3,84.36 321.4,70.58 324.5,64.13 327.6,55.63 330.7,47.88 333.8,39.37 336.9,36.18 340,35.05 343.1,34.43 346.2,34.56 349.3,35.1 352.4,36.52 355.5,39.48 358.6,41.55 361.7,44.16 364.8,46.79 367.9,49.26 371,51.17 374.1,52.84 377.2,54.51 380.3,56.42 383.4,57.93 386.5,59.33 389.6,61.82 392.7,62.71 395.8,63.89 398.9,64.52 402,66.42 405.1,67.38 408.2,67.74" fill="none" stroke="#1b8fe6" stroke-width="1.8" stroke-linejoin="round" />
<line x1="278" y1="127.33" x2="278" y2="129.93" stroke="#4a4a4a" stroke-width="0.95" />
<line x1="276.6" y1="127.33" x2="279.4" y2="127.33" stroke="#4a4a4a" stroke-width="0.95" />
<line x1="276.6" y1="129.93" x2="279.4" y2="129.93" stroke="#4a4a4a" stroke-width="0.95" />
<line x1="281.1" y1="128.05" x2="281.1" y2="130.65" stroke="#4a4a4a" stroke-width="0.95" />
<line x1="279.7" y1="128.05" x2="282.5" y2="128.05" stroke="#4a4a4a" stroke-width="0.95" />
<line x1="279.7" y1="130.65" x2="282.5" y2="130.65" stroke="#4a4a4a" stroke-width="0.95" />
<line x1="284.2" y1="127.96" x2="284.2" y2="130.56" stroke="#4a4a4a" stroke-width="0.95" />
<line x1="282.8" y1="127.96" x2="285.6" y2="127.96" stroke="#4a4a4a" stroke-width="0.95" />
<line x1="282.8" y1="130.56" x2="285.6" y2="130.56" stroke="#4a4a4a" stroke-width="0.95" />
<line x1="287.3" y1="127.46" x2="287.3" y2="130.06" stroke="#4a4a4a" stroke-width="0.95" />
<line x1="285.9" y1="127.46" x2="288.7" y2="127.46" stroke="#4a4a4a" stroke-width="0.95" />
<line x1="285.9" y1="130.06" x2="288.7" y2="130.06" stroke="#4a4a4a" stroke-width="0.95" />
<line x1="290.4" y1="127.7" x2="290.4" y2="130.3" stroke="#4a4a4a" stroke-width="0.95" />
<line x1="289" y1="127.7" x2="291.8" y2="127.7" stroke="#4a4a4a" stroke-width="0.95" />
<line x1="289" y1="130.3" x2="291.8" y2="130.3" stroke="#4a4a4a" stroke-width="0.95" />
<line x1="293.5" y1="127.65" x2="293.5" y2="130.25" stroke="#4a4a4a" stroke-width="0.95" />
<line x1="292.1" y1="127.65" x2="294.9" y2="127.65" stroke="#4a4a4a" stroke-width="0.95" />
<line x1="292.1" y1="130.25" x2="294.9" y2="130.25" stroke="#4a4a4a" stroke-width="0.95" />
<line x1="296.6" y1="127.85" x2="296.6" y2="130.45" stroke="#4a4a4a" stroke-width="0.95" />
<line x1="295.2" y1="127.85" x2="298" y2="127.85" stroke="#4a4a4a" stroke-width="0.95" />
<line x1="295.2" y1="130.45" x2="298" y2="130.45" stroke="#4a4a4a" stroke-width="0.95" />
<line x1="299.7" y1="127.99" x2="299.7" y2="130.59" stroke="#4a4a4a" stroke-width="0.95" />
<line x1="298.3" y1="127.99" x2="301.1" y2="127.99" stroke="#4a4a4a" stroke-width="0.95" />
<line x1="298.3" y1="130.59" x2="301.1" y2="130.59" stroke="#4a4a4a" stroke-width="0.95" />
<line x1="302.8" y1="127.29" x2="302.8" y2="129.89" stroke="#4a4a4a" stroke-width="0.95" />
<line x1="301.4" y1="127.29" x2="304.2" y2="127.29" stroke="#4a4a4a" stroke-width="0.95" />
<line x1="301.4" y1="129.89" x2="304.2" y2="129.89" stroke="#4a4a4a" stroke-width="0.95" />
<line x1="305.9" y1="127.23" x2="305.9" y2="129.83" stroke="#4a4a4a" stroke-width="0.95" />
<line x1="304.5" y1="127.23" x2="307.3" y2="127.23" stroke="#4a4a4a" stroke-width="0.95" />
<line x1="304.5" y1="129.83" x2="307.3" y2="129.83" stroke="#4a4a4a" stroke-width="0.95" />
<line x1="309" y1="128.04" x2="309" y2="130.64" stroke="#4a4a4a" stroke-width="0.95" />
<line x1="307.6" y1="128.04" x2="310.4" y2="128.04" stroke="#4a4a4a" stroke-width="0.95" />
<line x1="307.6" y1="130.64" x2="310.4" y2="130.64" stroke="#4a4a4a" stroke-width="0.95" />
<line x1="312.1" y1="129.06" x2="312.1" y2="131.74" stroke="#4a4a4a" stroke-width="0.95" />
<line x1="310.7" y1="129.06" x2="313.5" y2="129.06" stroke="#4a4a4a" stroke-width="0.95" />
<line x1="310.7" y1="131.74" x2="313.5" y2="131.74" stroke="#4a4a4a" stroke-width="0.95" />
<line x1="315.2" y1="116.28" x2="315.2" y2="121.44" stroke="#4a4a4a" stroke-width="0.95" />
<line x1="313.8" y1="116.28" x2="316.6" y2="116.28" stroke="#4a4a4a" stroke-width="0.95" />
<line x1="313.8" y1="121.44" x2="316.6" y2="121.44" stroke="#4a4a4a" stroke-width="0.95" />
<line x1="318.3" y1="105.54" x2="318.3" y2="113.18" stroke="#4a4a4a" stroke-width="0.95" />
<line x1="316.9" y1="105.54" x2="319.7" y2="105.54" stroke="#4a4a4a" stroke-width="0.95" />
<line x1="316.9" y1="113.18" x2="319.7" y2="113.18" stroke="#4a4a4a" stroke-width="0.95" />
<line x1="321.4" y1="101.84" x2="321.4" y2="110.64" stroke="#4a4a4a" stroke-width="0.95" />
<line x1="320" y1="101.84" x2="322.8" y2="101.84" stroke="#4a4a4a" stroke-width="0.95" />
<line x1="320" y1="110.64" x2="322.8" y2="110.64" stroke="#4a4a4a" stroke-width="0.95" />
<line x1="324.5" y1="99.4" x2="324.5" y2="108.2" stroke="#4a4a4a" stroke-width="0.95" />
<line x1="323.1" y1="99.4" x2="325.9" y2="99.4" stroke="#4a4a4a" stroke-width="0.95" />
<line x1="323.1" y1="108.2" x2="325.9" y2="108.2" stroke="#4a4a4a" stroke-width="0.95" />
<line x1="327.6" y1="97.71" x2="327.6" y2="106.51" stroke="#4a4a4a" stroke-width="0.95" />
<line x1="326.2" y1="97.71" x2="329" y2="97.71" stroke="#4a4a4a" stroke-width="0.95" />
<line x1="326.2" y1="106.51" x2="329" y2="106.51" stroke="#4a4a4a" stroke-width="0.95" />
<line x1="330.7" y1="97.23" x2="330.7" y2="106.05" stroke="#4a4a4a" stroke-width="0.95" />
<line x1="329.3" y1="97.23" x2="332.1" y2="97.23" stroke="#4a4a4a" stroke-width="0.95" />
<line x1="329.3" y1="106.05" x2="332.1" y2="106.05" stroke="#4a4a4a" stroke-width="0.95" />
<line x1="333.8" y1="97.16" x2="333.8" y2="106.08" stroke="#4a4a4a" stroke-width="0.95" />
<line x1="332.4" y1="97.16" x2="335.2" y2="97.16" stroke="#4a4a4a" stroke-width="0.95" />
<line x1="332.4" y1="106.08" x2="335.2" y2="106.08" stroke="#4a4a4a" stroke-width="0.95" />
<line x1="336.9" y1="96.5" x2="336.9" y2="105.51" stroke="#4a4a4a" stroke-width="0.95" />
<line x1="335.5" y1="96.5" x2="338.3" y2="96.5" stroke="#4a4a4a" stroke-width="0.95" />
<line x1="335.5" y1="105.51" x2="338.3" y2="105.51" stroke="#4a4a4a" stroke-width="0.95" />
<line x1="340" y1="96.71" x2="340" y2="105.82" stroke="#4a4a4a" stroke-width="0.95" />
<line x1="338.6" y1="96.71" x2="341.4" y2="96.71" stroke="#4a4a4a" stroke-width="0.95" />
<line x1="338.6" y1="105.82" x2="341.4" y2="105.82" stroke="#4a4a4a" stroke-width="0.95" />
<line x1="343.1" y1="97.44" x2="343.1" y2="106.64" stroke="#4a4a4a" stroke-width="0.95" />
<line x1="341.7" y1="97.44" x2="344.5" y2="97.44" stroke="#4a4a4a" stroke-width="0.95" />
<line x1="341.7" y1="106.64" x2="344.5" y2="106.64" stroke="#4a4a4a" stroke-width="0.95" />
<line x1="346.2" y1="98.05" x2="346.2" y2="107.34" stroke="#4a4a4a" stroke-width="0.95" />
<line x1="344.8" y1="98.05" x2="347.6" y2="98.05" stroke="#4a4a4a" stroke-width="0.95" />
<line x1="344.8" y1="107.34" x2="347.6" y2="107.34" stroke="#4a4a4a" stroke-width="0.95" />
<line x1="349.3" y1="98.06" x2="349.3" y2="107.45" stroke="#4a4a4a" stroke-width="0.95" />
<line x1="347.9" y1="98.06" x2="350.7" y2="98.06" stroke="#4a4a4a" stroke-width="0.95" />
<line x1="347.9" y1="107.45" x2="350.7" y2="107.45" stroke="#4a4a4a" stroke-width="0.95" />
<line x1="352.4" y1="98.89" x2="352.4" y2="108.37" stroke="#4a4a4a" stroke-width="0.95" />
<line x1="351" y1="98.89" x2="353.8" y2="98.89" stroke="#4a4a4a" stroke-width="0.95" />
<line x1="351" y1="108.37" x2="353.8" y2="108.37" stroke="#4a4a4a" stroke-width="0.95" />
<line x1="355.5" y1="100.1" x2="355.5" y2="109.67" stroke="#4a4a4a" stroke-width="0.95" />
<line x1="354.1" y1="100.1" x2="356.9" y2="100.1" stroke="#4a4a4a" stroke-width="0.95" />
<line x1="354.1" y1="109.67" x2="356.9" y2="109.67" stroke="#4a4a4a" stroke-width="0.95" />
<line x1="358.6" y1="100.7" x2="358.6" y2="110.37" stroke="#4a4a4a" stroke-width="0.95" />
<line x1="357.2" y1="100.7" x2="360" y2="100.7" stroke="#4a4a4a" stroke-width="0.95" />
<line x1="357.2" y1="110.37" x2="360" y2="110.37" stroke="#4a4a4a" stroke-width="0.95" />
<line x1="361.7" y1="101.89" x2="361.7" y2="111.65" stroke="#4a4a4a" stroke-width="0.95" />
<line x1="360.3" y1="101.89" x2="363.1" y2="101.89" stroke="#4a4a4a" stroke-width="0.95" />
<line x1="360.3" y1="111.65" x2="363.1" y2="111.65" stroke="#4a4a4a" stroke-width="0.95" />
<line x1="364.8" y1="103.11" x2="364.8" y2="112.96" stroke="#4a4a4a" stroke-width="0.95" />
<line x1="363.4" y1="103.11" x2="366.2" y2="103.11" stroke="#4a4a4a" stroke-width="0.95" />
<line x1="363.4" y1="112.96" x2="366.2" y2="112.96" stroke="#4a4a4a" stroke-width="0.95" />
<line x1="367.9" y1="104.11" x2="367.9" y2="114.06" stroke="#4a4a4a" stroke-width="0.95" />
<line x1="366.5" y1="104.11" x2="369.3" y2="104.11" stroke="#4a4a4a" stroke-width="0.95" />
<line x1="366.5" y1="114.06" x2="369.3" y2="114.06" stroke="#4a4a4a" stroke-width="0.95" />
<line x1="371" y1="104.78" x2="371" y2="114.82" stroke="#4a4a4a" stroke-width="0.95" />
<line x1="369.6" y1="104.78" x2="372.4" y2="104.78" stroke="#4a4a4a" stroke-width="0.95" />
<line x1="369.6" y1="114.82" x2="372.4" y2="114.82" stroke="#4a4a4a" stroke-width="0.95" />
<line x1="374.1" y1="105.7" x2="374.1" y2="115.84" stroke="#4a4a4a" stroke-width="0.95" />
<line x1="372.7" y1="105.7" x2="375.5" y2="105.7" stroke="#4a4a4a" stroke-width="0.95" />
<line x1="372.7" y1="115.84" x2="375.5" y2="115.84" stroke="#4a4a4a" stroke-width="0.95" />
<line x1="377.2" y1="106.62" x2="377.2" y2="116.85" stroke="#4a4a4a" stroke-width="0.95" />
<line x1="375.8" y1="106.62" x2="378.6" y2="106.62" stroke="#4a4a4a" stroke-width="0.95" />
<line x1="375.8" y1="116.85" x2="378.6" y2="116.85" stroke="#4a4a4a" stroke-width="0.95" />
<line x1="380.3" y1="107.79" x2="380.3" y2="118.12" stroke="#4a4a4a" stroke-width="0.95" />
<line x1="378.9" y1="107.79" x2="381.7" y2="107.79" stroke="#4a4a4a" stroke-width="0.95" />
<line x1="378.9" y1="118.12" x2="381.7" y2="118.12" stroke="#4a4a4a" stroke-width="0.95" />
<line x1="383.4" y1="108.55" x2="383.4" y2="118.97" stroke="#4a4a4a" stroke-width="0.95" />
<line x1="382" y1="108.55" x2="384.8" y2="108.55" stroke="#4a4a4a" stroke-width="0.95" />
<line x1="382" y1="118.97" x2="384.8" y2="118.97" stroke="#4a4a4a" stroke-width="0.95" />
<line x1="386.5" y1="109.17" x2="386.5" y2="119.69" stroke="#4a4a4a" stroke-width="0.95" />
<line x1="385.1" y1="109.17" x2="387.9" y2="109.17" stroke="#4a4a4a" stroke-width="0.95" />
<line x1="385.1" y1="119.69" x2="387.9" y2="119.69" stroke="#4a4a4a" stroke-width="0.95" />
<line x1="389.6" y1="110.87" x2="389.6" y2="121.48" stroke="#4a4a4a" stroke-width="0.95" />
<line x1="388.2" y1="110.87" x2="391" y2="110.87" stroke="#4a4a4a" stroke-width="0.95" />
<line x1="388.2" y1="121.48" x2="391" y2="121.48" stroke="#4a4a4a" stroke-width="0.95" />
<line x1="392.7" y1="111.48" x2="392.7" y2="122.19" stroke="#4a4a4a" stroke-width="0.95" />
<line x1="391.3" y1="111.48" x2="394.1" y2="111.48" stroke="#4a4a4a" stroke-width="0.95" />
<line x1="391.3" y1="122.19" x2="394.1" y2="122.19" stroke="#4a4a4a" stroke-width="0.95" />
<line x1="395.8" y1="112.46" x2="395.8" y2="123.26" stroke="#4a4a4a" stroke-width="0.95" />
<line x1="394.4" y1="112.46" x2="397.2" y2="112.46" stroke="#4a4a4a" stroke-width="0.95" />
<line x1="394.4" y1="123.26" x2="397.2" y2="123.26" stroke="#4a4a4a" stroke-width="0.95" />
<line x1="398.9" y1="112.89" x2="398.9" y2="123.78" stroke="#4a4a4a" stroke-width="0.95" />
<line x1="397.5" y1="112.89" x2="400.3" y2="112.89" stroke="#4a4a4a" stroke-width="0.95" />
<line x1="397.5" y1="123.78" x2="400.3" y2="123.78" stroke="#4a4a4a" stroke-width="0.95" />
<line x1="402" y1="114.59" x2="402" y2="125.57" stroke="#4a4a4a" stroke-width="0.95" />
<line x1="400.6" y1="114.59" x2="403.4" y2="114.59" stroke="#4a4a4a" stroke-width="0.95" />
<line x1="400.6" y1="125.57" x2="403.4" y2="125.57" stroke="#4a4a4a" stroke-width="0.95" />
<line x1="405.1" y1="115.34" x2="405.1" y2="126.42" stroke="#4a4a4a" stroke-width="0.95" />
<line x1="403.7" y1="115.34" x2="406.5" y2="115.34" stroke="#4a4a4a" stroke-width="0.95" />
<line x1="403.7" y1="126.42" x2="406.5" y2="126.42" stroke="#4a4a4a" stroke-width="0.95" />
<line x1="408.2" y1="115.49" x2="408.2" y2="126.67" stroke="#4a4a4a" stroke-width="0.95" />
<line x1="406.8" y1="115.49" x2="409.6" y2="115.49" stroke="#4a4a4a" stroke-width="0.95" />
<line x1="406.8" y1="126.67" x2="409.6" y2="126.67" stroke="#4a4a4a" stroke-width="0.95" />
<polyline points="278,128.63 281.1,129.35 284.2,129.26 287.3,128.76 290.4,129 293.5,128.95 296.6,129.15 299.7,129.29 302.8,128.59 305.9,128.53 309,129.34 312.1,130.4 315.2,118.86 318.3,109.36 321.4,106.24 324.5,103.8 327.6,102.11 330.7,101.64 333.8,101.62 336.9,101.01 340,101.26 343.1,102.04 346.2,102.7 349.3,102.75 352.4,103.63 355.5,104.88 358.6,105.54 361.7,106.77 364.8,108.03 367.9,109.09 371,109.8 374.1,110.77 377.2,111.74 380.3,112.95 383.4,113.76 386.5,114.43 389.6,116.18 392.7,116.83 395.8,117.86 398.9,118.34 402,120.08 405.1,120.88 408.2,121.08" fill="none" stroke="#f21515" stroke-width="2.2" stroke-linejoin="round" />
<circle cx="315.8" cy="151" r="1.45" fill="#333"/>
<circle cx="320.2" cy="151" r="1.45" fill="#333"/>
<circle cx="324.6" cy="151" r="1.45" fill="#333"/>
<circle cx="329" cy="151" r="1.45" fill="#333"/>
<circle cx="333.4" cy="151" r="1.45" fill="#333"/>
<circle cx="337.8" cy="151" r="1.45" fill="#333"/>
<circle cx="342.2" cy="151" r="1.45" fill="#333"/>
<circle cx="346.6" cy="151" r="1.45" fill="#333"/>
<circle cx="351" cy="151" r="1.45" fill="#333"/>
<circle cx="355.4" cy="151" r="1.45" fill="#333"/>
<circle cx="359.8" cy="151" r="1.45" fill="#333"/>
<circle cx="364.2" cy="151" r="1.45" fill="#333"/>
<circle cx="368.6" cy="151" r="1.45" fill="#333"/>
<circle cx="373" cy="151" r="1.45" fill="#333"/>
<circle cx="377.4" cy="151" r="1.45" fill="#333"/>
<circle cx="381.8" cy="151" r="1.45" fill="#333"/>
<circle cx="386.2" cy="151" r="1.45" fill="#333"/>
<circle cx="390.6" cy="151" r="1.45" fill="#333"/>
<circle cx="395" cy="151" r="1.45" fill="#333"/>
<circle cx="399.4" cy="151" r="1.45" fill="#333"/>
<circle cx="403.8" cy="151" r="1.45" fill="#333"/>
<circle cx="408.2" cy="151" r="1.45" fill="#333"/>
<line x1="304.5" y1="159.5" x2="354.5" y2="159.5" stroke="#000" stroke-width="1.3" />
<text x="314" y="172" font-size="10.4" fill="#111" text-anchor="start" font-weight="normal" textLength="35.4" lengthAdjust="spacingAndGlyphs">200 sec</text>
<text x="361" y="82.5" font-size="8.6" fill="#1b8fe6" text-anchor="start" font-weight="bold" >MCU<tspan font-size="7" dy="-3.2">+/+</tspan></text>
<text x="361" y="131.3" font-size="8.6" fill="#f21515" text-anchor="start" font-weight="bold" >MCU<tspan font-size="7" dy="-3.2">-/-</tspan></text>
<text x="15.7" y="194.7" font-size="14.9" fill="#111" text-anchor="start" font-weight="bold" textLength="7.7" lengthAdjust="spacingAndGlyphs">B</text>
<text x="11.2" y="217.4" font-size="8.4" fill="#111" text-anchor="start" font-weight="bold" >MCU<tspan font-size="5.6" font-weight="normal" fill="#333" dx="0.9" dy="-3.4">+/+</tspan></text>
<rect x="44.2" y="208.6" width="110.5" height="20.5" fill="#fff" stroke="#555" stroke-width="0.8"/>
<line x1="45.6" y1="214.3" x2="62.4" y2="214.3" stroke="#19e3f0" stroke-width="1" />
<circle cx="54.5" cy="214.3" r="1.2" fill="#19e3f0"/>
<line x1="45.6" y1="223.5" x2="62.4" y2="223.5" stroke="#4040f5" stroke-width="1" />
<path d="M53,224.78 L54.5,222 L56,224.78Z" fill="#4040f5"/>
<text x="64.7" y="217.1" font-size="7.9" fill="#111" text-anchor="start" font-weight="normal" >Stress Test</text>
<text x="64.7" y="226.4" font-size="7.9" fill="#111" text-anchor="start" font-weight="normal" >CCK 10 nM + Stress Test</text>
<line x1="30" y1="227.6" x2="30" y2="319.3" stroke="#666" stroke-width="0.8" />
<line x1="30" y1="319.3" x2="145" y2="319.3" stroke="#666" stroke-width="0.8" />
<line x1="28" y1="319.3" x2="30" y2="319.3" stroke="#666" stroke-width="0.8" />
<text x="27" y="321.7" font-size="7.3" fill="#222" text-anchor="end" font-weight="normal" >0</text>
<line x1="28" y1="301" x2="30" y2="301" stroke="#666" stroke-width="0.8" />
<text x="27" y="303.4" font-size="7.3" fill="#222" text-anchor="end" font-weight="normal" >2</text>
<line x1="28" y1="282.7" x2="30" y2="282.7" stroke="#666" stroke-width="0.8" />
<text x="27" y="285.1" font-size="7.3" fill="#222" text-anchor="end" font-weight="normal" >4</text>
<line x1="28" y1="264.4" x2="30" y2="264.4" stroke="#666" stroke-width="0.8" />
<text x="27" y="266.8" font-size="7.3" fill="#222" text-anchor="end" font-weight="normal" >6</text>
<line x1="28" y1="246.1" x2="30" y2="246.1" stroke="#666" stroke-width="0.8" />
<text x="27" y="248.5" font-size="7.3" fill="#222" text-anchor="end" font-weight="normal" >8</text>
<line x1="28" y1="227.8" x2="30" y2="227.8" stroke="#666" stroke-width="0.8" />
<text x="27" y="230.2" font-size="7.3" fill="#222" text-anchor="end" font-weight="normal" >10</text>
<line x1="29" y1="310.15" x2="30" y2="310.15" stroke="#666" stroke-width="0.6" />
<line x1="29" y1="291.85" x2="30" y2="291.85" stroke="#666" stroke-width="0.6" />
<line x1="29" y1="273.55" x2="30" y2="273.55" stroke="#666" stroke-width="0.6" />
<line x1="29" y1="255.25" x2="30" y2="255.25" stroke="#666" stroke-width="0.6" />
<line x1="29" y1="236.95" x2="30" y2="236.95" stroke="#666" stroke-width="0.6" />
<line x1="31" y1="319.3" x2="31" y2="321.3" stroke="#666" stroke-width="0.8" />
<text x="31" y="328.6" font-size="7.3" fill="#222" text-anchor="middle" font-weight="normal" >0</text>
<line x1="63.3" y1="319.3" x2="63.3" y2="321.3" stroke="#666" stroke-width="0.8" />
<text x="63.3" y="328.6" font-size="7.3" fill="#222" text-anchor="middle" font-weight="normal" >2000</text>
<line x1="95.6" y1="319.3" x2="95.6" y2="321.3" stroke="#666" stroke-width="0.8" />
<text x="95.6" y="328.6" font-size="7.3" fill="#222" text-anchor="middle" font-weight="normal" >4000</text>
<line x1="127.9" y1="319.3" x2="127.9" y2="321.3" stroke="#666" stroke-width="0.8" />
<text x="127.9" y="328.6" font-size="7.3" fill="#222" text-anchor="middle" font-weight="normal" >6000</text>
<line x1="47.15" y1="319.3" x2="47.15" y2="320.5" stroke="#666" stroke-width="0.6" />
<line x1="79.45" y1="319.3" x2="79.45" y2="320.5" stroke="#666" stroke-width="0.6" />
<line x1="111.75" y1="319.3" x2="111.75" y2="320.5" stroke="#666" stroke-width="0.6" />
<text x="0" y="0" font-size="9.5" fill="#222" transform="translate(12.6 325.2) rotate(-90)" textLength="93.8" lengthAdjust="spacingAndGlyphs">OCR (pmol/min*gprot)</text>
<text x="108.3" y="345" font-size="9.4" fill="#222" text-anchor="start" font-weight="normal" >Time (s)</text>
<text x="61.6" y="249.4" font-size="7.6" fill="#222" text-anchor="middle" font-weight="normal" >CCK</text>
<text x="91.25" y="249.4" font-size="7.6" fill="#222" text-anchor="middle" font-weight="normal" >O</text>
<text x="112.4" y="249.4" font-size="7.6" fill="#222" text-anchor="middle" font-weight="normal" >FCCP</text>
<text x="137" y="249.4" font-size="7.6" fill="#222" text-anchor="middle" font-weight="normal" >R+A</text>
<line x1="59" y1="252" x2="59" y2="266" stroke="#222" stroke-width="0.8" stroke-dasharray="1.2,1.1"/>
<path d="M57.6,265.5 L59,269 L60.4,265.5Z" fill="#222"/>
<line x1="91.8" y1="252" x2="91.8" y2="319" stroke="#333" stroke-width="0.8" stroke-dasharray="1,1.2"/>
<line x1="110" y1="252" x2="110" y2="319" stroke="#333" stroke-width="0.8" stroke-dasharray="1,1.2"/>
<line x1="130.8" y1="252" x2="130.8" y2="319" stroke="#333" stroke-width="0.8" stroke-dasharray="1,1.2"/>
<line x1="31.1" y1="294.5" x2="31.1" y2="298.9" stroke="#19e3f0" stroke-width="0.8" />
<line x1="30" y1="294.5" x2="32.2" y2="294.5" stroke="#19e3f0" stroke-width="0.8" />
<line x1="30" y1="298.9" x2="32.2" y2="298.9" stroke="#19e3f0" stroke-width="0.8" />
<line x1="36.1" y1="294.3" x2="36.1" y2="298.7" stroke="#19e3f0" stroke-width="0.8" />
<line x1="35" y1="294.3" x2="37.2" y2="294.3" stroke="#19e3f0" stroke-width="0.8" />
<line x1="35" y1="298.7" x2="37.2" y2="298.7" stroke="#19e3f0" stroke-width="0.8" />
<line x1="44.5" y1="293.8" x2="44.5" y2="298.2" stroke="#19e3f0" stroke-width="0.8" />
<line x1="43.4" y1="293.8" x2="45.6" y2="293.8" stroke="#19e3f0" stroke-width="0.8" />
<line x1="43.4" y1="298.2" x2="45.6" y2="298.2" stroke="#19e3f0" stroke-width="0.8" />
<line x1="51.4" y1="293.3" x2="51.4" y2="297.7" stroke="#19e3f0" stroke-width="0.8" />
<line x1="50.3" y1="293.3" x2="52.5" y2="293.3" stroke="#19e3f0" stroke-width="0.8" />
<line x1="50.3" y1="297.7" x2="52.5" y2="297.7" stroke="#19e3f0" stroke-width="0.8" />
<line x1="57.6" y1="292.3" x2="57.6" y2="296.7" stroke="#19e3f0" stroke-width="0.8" />
<line x1="56.5" y1="292.3" x2="58.7" y2="292.3" stroke="#19e3f0" stroke-width="0.8" />
<line x1="56.5" y1="296.7" x2="58.7" y2="296.7" stroke="#19e3f0" stroke-width="0.8" />
<line x1="64" y1="288.1" x2="64" y2="293.1" stroke="#19e3f0" stroke-width="0.8" />
<line x1="62.9" y1="288.1" x2="65.1" y2="288.1" stroke="#19e3f0" stroke-width="0.8" />
<line x1="62.9" y1="293.1" x2="65.1" y2="293.1" stroke="#19e3f0" stroke-width="0.8" />
<line x1="70.4" y1="286.3" x2="70.4" y2="292.3" stroke="#19e3f0" stroke-width="0.8" />
<line x1="69.3" y1="286.3" x2="71.5" y2="286.3" stroke="#19e3f0" stroke-width="0.8" />
<line x1="69.3" y1="292.3" x2="71.5" y2="292.3" stroke="#19e3f0" stroke-width="0.8" />
<line x1="77" y1="285.7" x2="77" y2="291.7" stroke="#19e3f0" stroke-width="0.8" />
<line x1="75.9" y1="285.7" x2="78.1" y2="285.7" stroke="#19e3f0" stroke-width="0.8" />
<line x1="75.9" y1="291.7" x2="78.1" y2="291.7" stroke="#19e3f0" stroke-width="0.8" />
<line x1="83.5" y1="285" x2="83.5" y2="291" stroke="#19e3f0" stroke-width="0.8" />
<line x1="82.4" y1="285" x2="84.6" y2="285" stroke="#19e3f0" stroke-width="0.8" />
<line x1="82.4" y1="291" x2="84.6" y2="291" stroke="#19e3f0" stroke-width="0.8" />
<line x1="89.6" y1="284.8" x2="89.6" y2="290.8" stroke="#19e3f0" stroke-width="0.8" />
<line x1="88.5" y1="284.8" x2="90.7" y2="284.8" stroke="#19e3f0" stroke-width="0.8" />
<line x1="88.5" y1="290.8" x2="90.7" y2="290.8" stroke="#19e3f0" stroke-width="0.8" />
<line x1="96.5" y1="297.5" x2="96.5" y2="300.5" stroke="#19e3f0" stroke-width="0.8" />
<line x1="95.4" y1="297.5" x2="97.6" y2="297.5" stroke="#19e3f0" stroke-width="0.8" />
<line x1="95.4" y1="300.5" x2="97.6" y2="300.5" stroke="#19e3f0" stroke-width="0.8" />
<line x1="103" y1="301" x2="103" y2="304" stroke="#19e3f0" stroke-width="0.8" />
<line x1="101.9" y1="301" x2="104.1" y2="301" stroke="#19e3f0" stroke-width="0.8" />
<line x1="101.9" y1="304" x2="104.1" y2="304" stroke="#19e3f0" stroke-width="0.8" />
<line x1="109" y1="301" x2="109" y2="304" stroke="#19e3f0" stroke-width="0.8" />
<line x1="107.9" y1="301" x2="110.1" y2="301" stroke="#19e3f0" stroke-width="0.8" />
<line x1="107.9" y1="304" x2="110.1" y2="304" stroke="#19e3f0" stroke-width="0.8" />
<line x1="115.5" y1="255.3" x2="115.5" y2="269.3" stroke="#19e3f0" stroke-width="0.8" />
<line x1="114.4" y1="255.3" x2="116.6" y2="255.3" stroke="#19e3f0" stroke-width="0.8" />
<line x1="114.4" y1="269.3" x2="116.6" y2="269.3" stroke="#19e3f0" stroke-width="0.8" />
<line x1="121.9" y1="262.4" x2="121.9" y2="274.4" stroke="#19e3f0" stroke-width="0.8" />
<line x1="120.8" y1="262.4" x2="123" y2="262.4" stroke="#19e3f0" stroke-width="0.8" />
<line x1="120.8" y1="274.4" x2="123" y2="274.4" stroke="#19e3f0" stroke-width="0.8" />
<line x1="128.6" y1="263.8" x2="128.6" y2="275.8" stroke="#19e3f0" stroke-width="0.8" />
<line x1="127.5" y1="263.8" x2="129.7" y2="263.8" stroke="#19e3f0" stroke-width="0.8" />
<line x1="127.5" y1="275.8" x2="129.7" y2="275.8" stroke="#19e3f0" stroke-width="0.8" />
<line x1="135" y1="311" x2="135" y2="313" stroke="#19e3f0" stroke-width="0.8" />
<line x1="133.9" y1="311" x2="136.1" y2="311" stroke="#19e3f0" stroke-width="0.8" />
<line x1="133.9" y1="313" x2="136.1" y2="313" stroke="#19e3f0" stroke-width="0.8" />
<line x1="141.4" y1="311" x2="141.4" y2="313" stroke="#19e3f0" stroke-width="0.8" />
<line x1="140.3" y1="311" x2="142.5" y2="311" stroke="#19e3f0" stroke-width="0.8" />
<line x1="140.3" y1="313" x2="142.5" y2="313" stroke="#19e3f0" stroke-width="0.8" />
<polyline points="31.1,296.7 36.1,296.5 44.5,296 51.4,295.5 57.6,294.5 64,290.6 70.4,289.3 77,288.7 83.5,288 89.6,287.8 96.5,299 103,302.5 109,302.5 115.5,262.3 121.9,268.4 128.6,269.8 135,312 141.4,312" fill="none" stroke="#19e3f0" stroke-width="0.9" stroke-linejoin="round" />
<circle cx="31.1" cy="296.7" r="1.4" fill="#19e3f0"/>
<circle cx="36.1" cy="296.5" r="1.4" fill="#19e3f0"/>
<circle cx="44.5" cy="296" r="1.4" fill="#19e3f0"/>
<circle cx="51.4" cy="295.5" r="1.4" fill="#19e3f0"/>
<circle cx="57.6" cy="294.5" r="1.4" fill="#19e3f0"/>
<circle cx="64" cy="290.6" r="1.4" fill="#19e3f0"/>
<circle cx="70.4" cy="289.3" r="1.4" fill="#19e3f0"/>
<circle cx="77" cy="288.7" r="1.4" fill="#19e3f0"/>
<circle cx="83.5" cy="288" r="1.4" fill="#19e3f0"/>
<circle cx="89.6" cy="287.8" r="1.4" fill="#19e3f0"/>
<circle cx="96.5" cy="299" r="1.4" fill="#19e3f0"/>
<circle cx="103" cy="302.5" r="1.4" fill="#19e3f0"/>
<circle cx="109" cy="302.5" r="1.4" fill="#19e3f0"/>
<circle cx="115.5" cy="262.3" r="1.4" fill="#19e3f0"/>
<circle cx="121.9" cy="268.4" r="1.4" fill="#19e3f0"/>
<circle cx="128.6" cy="269.8" r="1.4" fill="#19e3f0"/>
<circle cx="135" cy="312" r="1.4" fill="#19e3f0"/>
<circle cx="141.4" cy="312" r="1.4" fill="#19e3f0"/>
<line x1="31.1" y1="292.7" x2="31.1" y2="297.1" stroke="#4040f5" stroke-width="0.8" />
<line x1="30" y1="292.7" x2="32.2" y2="292.7" stroke="#4040f5" stroke-width="0.8" />
<line x1="30" y1="297.1" x2="32.2" y2="297.1" stroke="#4040f5" stroke-width="0.8" />
<line x1="36.1" y1="291.8" x2="36.1" y2="296.2" stroke="#4040f5" stroke-width="0.8" />
<line x1="35" y1="291.8" x2="37.2" y2="291.8" stroke="#4040f5" stroke-width="0.8" />
<line x1="35" y1="296.2" x2="37.2" y2="296.2" stroke="#4040f5" stroke-width="0.8" />
<line x1="44.5" y1="291.3" x2="44.5" y2="295.7" stroke="#4040f5" stroke-width="0.8" />
<line x1="43.4" y1="291.3" x2="45.6" y2="291.3" stroke="#4040f5" stroke-width="0.8" />
<line x1="43.4" y1="295.7" x2="45.6" y2="295.7" stroke="#4040f5" stroke-width="0.8" />
<line x1="51.4" y1="290.4" x2="51.4" y2="294.8" stroke="#4040f5" stroke-width="0.8" />
<line x1="50.3" y1="290.4" x2="52.5" y2="290.4" stroke="#4040f5" stroke-width="0.8" />
<line x1="50.3" y1="294.8" x2="52.5" y2="294.8" stroke="#4040f5" stroke-width="0.8" />
<line x1="57.6" y1="289.8" x2="57.6" y2="294.2" stroke="#4040f5" stroke-width="0.8" />
<line x1="56.5" y1="289.8" x2="58.7" y2="289.8" stroke="#4040f5" stroke-width="0.8" />
<line x1="56.5" y1="294.2" x2="58.7" y2="294.2" stroke="#4040f5" stroke-width="0.8" />
<line x1="64" y1="272" x2="64" y2="279" stroke="#4040f5" stroke-width="0.8" />
<line x1="62.9" y1="272" x2="65.1" y2="272" stroke="#4040f5" stroke-width="0.8" />
<line x1="62.9" y1="279" x2="65.1" y2="279" stroke="#4040f5" stroke-width="0.8" />
<line x1="70.4" y1="276.9" x2="70.4" y2="283.9" stroke="#4040f5" stroke-width="0.8" />
<line x1="69.3" y1="276.9" x2="71.5" y2="276.9" stroke="#4040f5" stroke-width="0.8" />
<line x1="69.3" y1="283.9" x2="71.5" y2="283.9" stroke="#4040f5" stroke-width="0.8" />
<line x1="77" y1="279.8" x2="77" y2="285.8" stroke="#4040f5" stroke-width="0.8" />
<line x1="75.9" y1="279.8" x2="78.1" y2="279.8" stroke="#4040f5" stroke-width="0.8" />
<line x1="75.9" y1="285.8" x2="78.1" y2="285.8" stroke="#4040f5" stroke-width="0.8" />
<line x1="83.5" y1="280.7" x2="83.5" y2="286.7" stroke="#4040f5" stroke-width="0.8" />
<line x1="82.4" y1="280.7" x2="84.6" y2="280.7" stroke="#4040f5" stroke-width="0.8" />
<line x1="82.4" y1="286.7" x2="84.6" y2="286.7" stroke="#4040f5" stroke-width="0.8" />
<line x1="89.6" y1="281.8" x2="89.6" y2="286.8" stroke="#4040f5" stroke-width="0.8" />
<line x1="88.5" y1="281.8" x2="90.7" y2="281.8" stroke="#4040f5" stroke-width="0.8" />
<line x1="88.5" y1="286.8" x2="90.7" y2="286.8" stroke="#4040f5" stroke-width="0.8" />
<line x1="96.5" y1="293.9" x2="96.5" y2="295.9" stroke="#4040f5" stroke-width="0.8" />
<line x1="95.4" y1="293.9" x2="97.6" y2="293.9" stroke="#4040f5" stroke-width="0.8" />
<line x1="95.4" y1="295.9" x2="97.6" y2="295.9" stroke="#4040f5" stroke-width="0.8" />
<line x1="103" y1="298.6" x2="103" y2="300.6" stroke="#4040f5" stroke-width="0.8" />
<line x1="101.9" y1="298.6" x2="104.1" y2="298.6" stroke="#4040f5" stroke-width="0.8" />
<line x1="101.9" y1="300.6" x2="104.1" y2="300.6" stroke="#4040f5" stroke-width="0.8" />
<line x1="109" y1="298.9" x2="109" y2="300.9" stroke="#4040f5" stroke-width="0.8" />
<line x1="107.9" y1="298.9" x2="110.1" y2="298.9" stroke="#4040f5" stroke-width="0.8" />
<line x1="107.9" y1="300.9" x2="110.1" y2="300.9" stroke="#4040f5" stroke-width="0.8" />
<line x1="115.5" y1="252" x2="115.5" y2="278" stroke="#4040f5" stroke-width="0.8" />
<line x1="114.4" y1="252" x2="116.6" y2="252" stroke="#4040f5" stroke-width="0.8" />
<line x1="114.4" y1="278" x2="116.6" y2="278" stroke="#4040f5" stroke-width="0.8" />
<line x1="121.9" y1="259.8" x2="121.9" y2="283.8" stroke="#4040f5" stroke-width="0.8" />
<line x1="120.8" y1="259.8" x2="123" y2="259.8" stroke="#4040f5" stroke-width="0.8" />
<line x1="120.8" y1="283.8" x2="123" y2="283.8" stroke="#4040f5" stroke-width="0.8" />
<line x1="128.6" y1="260.4" x2="128.6" y2="286.4" stroke="#4040f5" stroke-width="0.8" />
<line x1="127.5" y1="260.4" x2="129.7" y2="260.4" stroke="#4040f5" stroke-width="0.8" />
<line x1="127.5" y1="286.4" x2="129.7" y2="286.4" stroke="#4040f5" stroke-width="0.8" />
<line x1="135" y1="307.3" x2="135" y2="310.3" stroke="#4040f5" stroke-width="0.8" />
<line x1="133.9" y1="307.3" x2="136.1" y2="307.3" stroke="#4040f5" stroke-width="0.8" />
<line x1="133.9" y1="310.3" x2="136.1" y2="310.3" stroke="#4040f5" stroke-width="0.8" />
<line x1="141.4" y1="308.4" x2="141.4" y2="310.8" stroke="#4040f5" stroke-width="0.8" />
<line x1="140.3" y1="308.4" x2="142.5" y2="308.4" stroke="#4040f5" stroke-width="0.8" />
<line x1="140.3" y1="310.8" x2="142.5" y2="310.8" stroke="#4040f5" stroke-width="0.8" />
<polyline points="31.1,294.9 36.1,294 44.5,293.5 51.4,292.6 57.6,292 64,275.5 70.4,280.4 77,282.8 83.5,283.7 89.6,284.3 96.5,294.9 103,299.6 109,299.9 115.5,265 121.9,271.8 128.6,273.4 135,308.8 141.4,309.6" fill="none" stroke="#4040f5" stroke-width="0.9" stroke-linejoin="round" />
<path d="M29.4,296.34 L31.1,293.2 L32.8,296.34Z" fill="#4040f5"/>
<path d="M34.4,295.44 L36.1,292.3 L37.8,295.44Z" fill="#4040f5"/>
<path d="M42.8,294.94 L44.5,291.8 L46.2,294.94Z" fill="#4040f5"/>
<path d="M49.7,294.05 L51.4,290.9 L53.1,294.05Z" fill="#4040f5"/>
<path d="M55.9,293.44 L57.6,290.3 L59.3,293.44Z" fill="#4040f5"/>
<path d="M62.3,276.94 L64,273.8 L65.7,276.94Z" fill="#4040f5"/>
<path d="M68.7,281.84 L70.4,278.7 L72.1,281.84Z" fill="#4040f5"/>
<path d="M75.3,284.25 L77,281.1 L78.7,284.25Z" fill="#4040f5"/>
<path d="M81.8,285.14 L83.5,282 L85.2,285.14Z" fill="#4040f5"/>
<path d="M87.9,285.75 L89.6,282.6 L91.3,285.75Z" fill="#4040f5"/>
<path d="M94.8,296.34 L96.5,293.2 L98.2,296.34Z" fill="#4040f5"/>
<path d="M101.3,301.05 L103,297.9 L104.7,301.05Z" fill="#4040f5"/>
<path d="M107.3,301.34 L109,298.2 L110.7,301.34Z" fill="#4040f5"/>
<path d="M113.8,266.44 L115.5,263.3 L117.2,266.44Z" fill="#4040f5"/>
<path d="M120.2,273.25 L121.9,270.1 L123.6,273.25Z" fill="#4040f5"/>
<path d="M126.9,274.84 L128.6,271.7 L130.3,274.84Z" fill="#4040f5"/>
<path d="M133.3,310.25 L135,307.1 L136.7,310.25Z" fill="#4040f5"/>
<path d="M139.7,311.05 L141.4,307.9 L143.1,311.05Z" fill="#4040f5"/>
<circle cx="63.8" cy="267.9" r="1.5" fill="#4040f5"/>
<circle cx="70.2" cy="272.8" r="1.5" fill="#4040f5"/>
<circle cx="76.7" cy="275.7" r="1.5" fill="#4040f5"/>
<text x="157" y="217.5" font-size="8.4" fill="#111" text-anchor="start" font-weight="bold" >MCU<tspan font-size="5.6" font-weight="normal" fill="#333" dx="0.9" dy="-3.4">-/-</tspan></text>
<rect x="186.4" y="209.7" width="109.6" height="20" fill="#fff" stroke="#555" stroke-width="0.8"/>
<line x1="188.4" y1="215.4" x2="205" y2="215.4" stroke="#ffb4d2" stroke-width="1" />
<circle cx="196.8" cy="215.4" r="1.1" fill="#ffb4d2"/>
<line x1="188.4" y1="224.7" x2="205" y2="224.7" stroke="#ff36a8" stroke-width="1" />
<path d="M195.3,225.97 L196.8,223.2 L198.3,225.97Z" fill="#ff36a8"/>
<text x="207.6" y="218" font-size="7.9" fill="#111" text-anchor="start" font-weight="normal" >Stress Test</text>
<text x="207.6" y="227.2" font-size="7.9" fill="#111" text-anchor="start" font-weight="normal" >CCK 10nM + Stress Test</text>
<line x1="178" y1="228" x2="178" y2="320" stroke="#666" stroke-width="0.8" />
<line x1="178" y1="320" x2="292" y2="320" stroke="#666" stroke-width="0.8" />
<line x1="176" y1="320" x2="178" y2="320" stroke="#666" stroke-width="0.8" />
<text x="175" y="322.4" font-size="7.3" fill="#222" text-anchor="end" font-weight="normal" >0</text>
<line x1="176" y1="301.6" x2="178" y2="301.6" stroke="#666" stroke-width="0.8" />
<text x="175" y="304" font-size="7.3" fill="#222" text-anchor="end" font-weight="normal" >2</text>
<line x1="176" y1="283.2" x2="178" y2="283.2" stroke="#666" stroke-width="0.8" />
<text x="175" y="285.6" font-size="7.3" fill="#222" text-anchor="end" font-weight="normal" >4</text>
<line x1="176" y1="264.8" x2="178" y2="264.8" stroke="#666" stroke-width="0.8" />
<text x="175" y="267.2" font-size="7.3" fill="#222" text-anchor="end" font-weight="normal" >6</text>
<line x1="176" y1="246.4" x2="178" y2="246.4" stroke="#666" stroke-width="0.8" />
<text x="175" y="248.8" font-size="7.3" fill="#222" text-anchor="end" font-weight="normal" >8</text>
<line x1="176" y1="228" x2="178" y2="228" stroke="#666" stroke-width="0.8" />
<text x="175" y="230.4" font-size="7.3" fill="#222" text-anchor="end" font-weight="normal" >10</text>
<line x1="177" y1="310.8" x2="178" y2="310.8" stroke="#666" stroke-width="0.6" />
<line x1="177" y1="292.4" x2="178" y2="292.4" stroke="#666" stroke-width="0.6" />
<line x1="177" y1="274" x2="178" y2="274" stroke="#666" stroke-width="0.6" />
<line x1="177" y1="255.6" x2="178" y2="255.6" stroke="#666" stroke-width="0.6" />
<line x1="177" y1="237.2" x2="178" y2="237.2" stroke="#666" stroke-width="0.6" />
<line x1="179.3" y1="320" x2="179.3" y2="322" stroke="#666" stroke-width="0.8" />
<text x="179.3" y="329.3" font-size="7.3" fill="#222" text-anchor="middle" font-weight="normal" >0</text>
<line x1="211.6" y1="320" x2="211.6" y2="322" stroke="#666" stroke-width="0.8" />
<text x="211.6" y="329.3" font-size="7.3" fill="#222" text-anchor="middle" font-weight="normal" >2000</text>
<line x1="243.9" y1="320" x2="243.9" y2="322" stroke="#666" stroke-width="0.8" />
<text x="243.9" y="329.3" font-size="7.3" fill="#222" text-anchor="middle" font-weight="normal" >4000</text>
<line x1="276.2" y1="320" x2="276.2" y2="322" stroke="#666" stroke-width="0.8" />
<text x="276.2" y="329.3" font-size="7.3" fill="#222" text-anchor="middle" font-weight="normal" >6000</text>
<line x1="195.45" y1="320" x2="195.45" y2="321.2" stroke="#666" stroke-width="0.6" />
<line x1="227.75" y1="320" x2="227.75" y2="321.2" stroke="#666" stroke-width="0.6" />
<line x1="260.05" y1="320" x2="260.05" y2="321.2" stroke="#666" stroke-width="0.6" />
<text x="0" y="0" font-size="9.2" fill="#222" transform="translate(162.6 326.3) rotate(-90)" textLength="90.6" lengthAdjust="spacingAndGlyphs">OCR (pmol/min*gprot)</text>
<text x="243.8" y="344.8" font-size="9.4" fill="#222" text-anchor="start" font-weight="normal" >Time (s)</text>
<text x="206.8" y="253.9" font-size="7.6" fill="#222" text-anchor="middle" font-weight="normal" >CCK</text>
<text x="238.4" y="253.9" font-size="7.6" fill="#222" text-anchor="middle" font-weight="normal" >O</text>
<text x="259.5" y="253.9" font-size="7.6" fill="#222" text-anchor="middle" font-weight="normal" >FCCP</text>
<text x="282" y="253.9" font-size="7.6" fill="#222" text-anchor="middle" font-weight="normal" >R+A</text>
<line x1="206.5" y1="257" x2="206.5" y2="269" stroke="#222" stroke-width="0.8" stroke-dasharray="1.2,1.1"/>
<path d="M205.1,268.5 L206.5,272 L207.9,268.5Z" fill="#222"/>
<line x1="238.6" y1="258" x2="238.6" y2="319" stroke="#333" stroke-width="0.8" stroke-dasharray="1,1.2"/>
<line x1="258.4" y1="258" x2="258.4" y2="319" stroke="#333" stroke-width="0.8" stroke-dasharray="1,1.2"/>
<line x1="278" y1="258" x2="278" y2="319" stroke="#333" stroke-width="0.8" stroke-dasharray="1,1.2"/>
<line x1="178.2" y1="292.5" x2="178.2" y2="302.5" stroke="#ffb4d2" stroke-width="0.8" />
<line x1="177.1" y1="292.5" x2="179.3" y2="292.5" stroke="#ffb4d2" stroke-width="0.8" />
<line x1="177.1" y1="302.5" x2="179.3" y2="302.5" stroke="#ffb4d2" stroke-width="0.8" />
<line x1="183.5" y1="292.5" x2="183.5" y2="302.5" stroke="#ffb4d2" stroke-width="0.8" />
<line x1="182.4" y1="292.5" x2="184.6" y2="292.5" stroke="#ffb4d2" stroke-width="0.8" />
<line x1="182.4" y1="302.5" x2="184.6" y2="302.5" stroke="#ffb4d2" stroke-width="0.8" />
<line x1="191.6" y1="292" x2="191.6" y2="302" stroke="#ffb4d2" stroke-width="0.8" />
<line x1="190.5" y1="292" x2="192.7" y2="292" stroke="#ffb4d2" stroke-width="0.8" />
<line x1="190.5" y1="302" x2="192.7" y2="302" stroke="#ffb4d2" stroke-width="0.8" />
<line x1="198.5" y1="291.5" x2="198.5" y2="301.5" stroke="#ffb4d2" stroke-width="0.8" />
<line x1="197.4" y1="291.5" x2="199.6" y2="291.5" stroke="#ffb4d2" stroke-width="0.8" />
<line x1="197.4" y1="301.5" x2="199.6" y2="301.5" stroke="#ffb4d2" stroke-width="0.8" />
<line x1="204.4" y1="291" x2="204.4" y2="301" stroke="#ffb4d2" stroke-width="0.8" />
<line x1="203.3" y1="291" x2="205.5" y2="291" stroke="#ffb4d2" stroke-width="0.8" />
<line x1="203.3" y1="301" x2="205.5" y2="301" stroke="#ffb4d2" stroke-width="0.8" />
<line x1="211.6" y1="288.5" x2="211.6" y2="298.5" stroke="#ffb4d2" stroke-width="0.8" />
<line x1="210.5" y1="288.5" x2="212.7" y2="288.5" stroke="#ffb4d2" stroke-width="0.8" />
<line x1="210.5" y1="298.5" x2="212.7" y2="298.5" stroke="#ffb4d2" stroke-width="0.8" />
<line x1="217.8" y1="290" x2="217.8" y2="299" stroke="#ffb4d2" stroke-width="0.8" />
<line x1="216.7" y1="290" x2="218.9" y2="290" stroke="#ffb4d2" stroke-width="0.8" />
<line x1="216.7" y1="299" x2="218.9" y2="299" stroke="#ffb4d2" stroke-width="0.8" />
<line x1="224.4" y1="291" x2="224.4" y2="300" stroke="#ffb4d2" stroke-width="0.8" />
<line x1="223.3" y1="291" x2="225.5" y2="291" stroke="#ffb4d2" stroke-width="0.8" />
<line x1="223.3" y1="300" x2="225.5" y2="300" stroke="#ffb4d2" stroke-width="0.8" />
<line x1="230.6" y1="291.5" x2="230.6" y2="301.5" stroke="#ffb4d2" stroke-width="0.8" />
<line x1="229.5" y1="291.5" x2="231.7" y2="291.5" stroke="#ffb4d2" stroke-width="0.8" />
<line x1="229.5" y1="301.5" x2="231.7" y2="301.5" stroke="#ffb4d2" stroke-width="0.8" />
<line x1="237" y1="292.5" x2="237" y2="302.5" stroke="#ffb4d2" stroke-width="0.8" />
<line x1="235.9" y1="292.5" x2="238.1" y2="292.5" stroke="#ffb4d2" stroke-width="0.8" />
<line x1="235.9" y1="302.5" x2="238.1" y2="302.5" stroke="#ffb4d2" stroke-width="0.8" />
<line x1="244" y1="298.5" x2="244" y2="304.5" stroke="#ffb4d2" stroke-width="0.8" />
<line x1="242.9" y1="298.5" x2="245.1" y2="298.5" stroke="#ffb4d2" stroke-width="0.8" />
<line x1="242.9" y1="304.5" x2="245.1" y2="304.5" stroke="#ffb4d2" stroke-width="0.8" />
<line x1="249.9" y1="301.5" x2="249.9" y2="307.5" stroke="#ffb4d2" stroke-width="0.8" />
<line x1="248.8" y1="301.5" x2="251" y2="301.5" stroke="#ffb4d2" stroke-width="0.8" />
<line x1="248.8" y1="307.5" x2="251" y2="307.5" stroke="#ffb4d2" stroke-width="0.8" />
<line x1="255.7" y1="302.5" x2="255.7" y2="308.5" stroke="#ffb4d2" stroke-width="0.8" />
<line x1="254.6" y1="302.5" x2="256.8" y2="302.5" stroke="#ffb4d2" stroke-width="0.8" />
<line x1="254.6" y1="308.5" x2="256.8" y2="308.5" stroke="#ffb4d2" stroke-width="0.8" />
<line x1="263.2" y1="260" x2="263.2" y2="284" stroke="#ffb4d2" stroke-width="0.8" />
<line x1="262.1" y1="260" x2="264.3" y2="260" stroke="#ffb4d2" stroke-width="0.8" />
<line x1="262.1" y1="284" x2="264.3" y2="284" stroke="#ffb4d2" stroke-width="0.8" />
<line x1="269.4" y1="266" x2="269.4" y2="292" stroke="#ffb4d2" stroke-width="0.8" />
<line x1="268.3" y1="266" x2="270.5" y2="266" stroke="#ffb4d2" stroke-width="0.8" />
<line x1="268.3" y1="292" x2="270.5" y2="292" stroke="#ffb4d2" stroke-width="0.8" />
<line x1="276" y1="270" x2="276" y2="292" stroke="#ffb4d2" stroke-width="0.8" />
<line x1="274.9" y1="270" x2="277.1" y2="270" stroke="#ffb4d2" stroke-width="0.8" />
<line x1="274.9" y1="292" x2="277.1" y2="292" stroke="#ffb4d2" stroke-width="0.8" />
<line x1="282.4" y1="313" x2="282.4" y2="315" stroke="#ffb4d2" stroke-width="0.8" />
<line x1="281.3" y1="313" x2="283.5" y2="313" stroke="#ffb4d2" stroke-width="0.8" />
<line x1="281.3" y1="315" x2="283.5" y2="315" stroke="#ffb4d2" stroke-width="0.8" />
<line x1="289.1" y1="313" x2="289.1" y2="315" stroke="#ffb4d2" stroke-width="0.8" />
<line x1="288" y1="313" x2="290.2" y2="313" stroke="#ffb4d2" stroke-width="0.8" />
<line x1="288" y1="315" x2="290.2" y2="315" stroke="#ffb4d2" stroke-width="0.8" />
<polyline points="178.2,297.5 183.5,297.5 191.6,297 198.5,296.5 204.4,296 211.6,293.5 217.8,294.5 224.4,295.5 230.6,296.5 237,297.5 244,301.5 249.9,304.5 255.7,305.5 263.2,272 269.4,279 276,281 282.4,314 289.1,314" fill="none" stroke="#ffb4d2" stroke-width="0.9" stroke-linejoin="round" />
<circle cx="178.2" cy="297.5" r="1.2" fill="#ffb4d2"/>
<circle cx="183.5" cy="297.5" r="1.2" fill="#ffb4d2"/>
<circle cx="191.6" cy="297" r="1.2" fill="#ffb4d2"/>
<circle cx="198.5" cy="296.5" r="1.2" fill="#ffb4d2"/>
<circle cx="204.4" cy="296" r="1.2" fill="#ffb4d2"/>
<circle cx="211.6" cy="293.5" r="1.2" fill="#ffb4d2"/>
<circle cx="217.8" cy="294.5" r="1.2" fill="#ffb4d2"/>
<circle cx="224.4" cy="295.5" r="1.2" fill="#ffb4d2"/>
<circle cx="230.6" cy="296.5" r="1.2" fill="#ffb4d2"/>
<circle cx="237" cy="297.5" r="1.2" fill="#ffb4d2"/>
<circle cx="244" cy="301.5" r="1.2" fill="#ffb4d2"/>
<circle cx="249.9" cy="304.5" r="1.2" fill="#ffb4d2"/>
<circle cx="255.7" cy="305.5" r="1.2" fill="#ffb4d2"/>
<circle cx="263.2" cy="272" r="1.2" fill="#ffb4d2"/>
<circle cx="269.4" cy="279" r="1.2" fill="#ffb4d2"/>
<circle cx="276" cy="281" r="1.2" fill="#ffb4d2"/>
<circle cx="282.4" cy="314" r="1.2" fill="#ffb4d2"/>
<circle cx="289.1" cy="314" r="1.2" fill="#ffb4d2"/>
<line x1="178.2" y1="291.4" x2="178.2" y2="306.4" stroke="#ff36a8" stroke-width="0.8" />
<line x1="177.1" y1="291.4" x2="179.3" y2="291.4" stroke="#ff36a8" stroke-width="0.8" />
<line x1="177.1" y1="306.4" x2="179.3" y2="306.4" stroke="#ff36a8" stroke-width="0.8" />
<line x1="183.5" y1="291.2" x2="183.5" y2="305.2" stroke="#ff36a8" stroke-width="0.8" />
<line x1="182.4" y1="291.2" x2="184.6" y2="291.2" stroke="#ff36a8" stroke-width="0.8" />
<line x1="182.4" y1="305.2" x2="184.6" y2="305.2" stroke="#ff36a8" stroke-width="0.8" />
<line x1="191.6" y1="291.6" x2="191.6" y2="304.6" stroke="#ff36a8" stroke-width="0.8" />
<line x1="190.5" y1="291.6" x2="192.7" y2="291.6" stroke="#ff36a8" stroke-width="0.8" />
<line x1="190.5" y1="304.6" x2="192.7" y2="304.6" stroke="#ff36a8" stroke-width="0.8" />
<line x1="198.5" y1="291" x2="198.5" y2="304" stroke="#ff36a8" stroke-width="0.8" />
<line x1="197.4" y1="291" x2="199.6" y2="291" stroke="#ff36a8" stroke-width="0.8" />
<line x1="197.4" y1="304" x2="199.6" y2="304" stroke="#ff36a8" stroke-width="0.8" />
<line x1="204.4" y1="290.3" x2="204.4" y2="303.3" stroke="#ff36a8" stroke-width="0.8" />
<line x1="203.3" y1="290.3" x2="205.5" y2="290.3" stroke="#ff36a8" stroke-width="0.8" />
<line x1="203.3" y1="303.3" x2="205.5" y2="303.3" stroke="#ff36a8" stroke-width="0.8" />
<line x1="211.6" y1="282.3" x2="211.6" y2="295.3" stroke="#ff36a8" stroke-width="0.8" />
<line x1="210.5" y1="282.3" x2="212.7" y2="282.3" stroke="#ff36a8" stroke-width="0.8" />
<line x1="210.5" y1="295.3" x2="212.7" y2="295.3" stroke="#ff36a8" stroke-width="0.8" />
<line x1="217.8" y1="289.4" x2="217.8" y2="300.4" stroke="#ff36a8" stroke-width="0.8" />
<line x1="216.7" y1="289.4" x2="218.9" y2="289.4" stroke="#ff36a8" stroke-width="0.8" />
<line x1="216.7" y1="300.4" x2="218.9" y2="300.4" stroke="#ff36a8" stroke-width="0.8" />
<line x1="224.4" y1="292.1" x2="224.4" y2="303.1" stroke="#ff36a8" stroke-width="0.8" />
<line x1="223.3" y1="292.1" x2="225.5" y2="292.1" stroke="#ff36a8" stroke-width="0.8" />
<line x1="223.3" y1="303.1" x2="225.5" y2="303.1" stroke="#ff36a8" stroke-width="0.8" />
<line x1="230.6" y1="292.1" x2="230.6" y2="303.1" stroke="#ff36a8" stroke-width="0.8" />
<line x1="229.5" y1="292.1" x2="231.7" y2="292.1" stroke="#ff36a8" stroke-width="0.8" />
<line x1="229.5" y1="303.1" x2="231.7" y2="303.1" stroke="#ff36a8" stroke-width="0.8" />
<line x1="237" y1="293.4" x2="237" y2="304.4" stroke="#ff36a8" stroke-width="0.8" />
<line x1="235.9" y1="293.4" x2="238.1" y2="293.4" stroke="#ff36a8" stroke-width="0.8" />
<line x1="235.9" y1="304.4" x2="238.1" y2="304.4" stroke="#ff36a8" stroke-width="0.8" />
<line x1="244" y1="300.8" x2="244" y2="307.8" stroke="#ff36a8" stroke-width="0.8" />
<line x1="242.9" y1="300.8" x2="245.1" y2="300.8" stroke="#ff36a8" stroke-width="0.8" />
<line x1="242.9" y1="307.8" x2="245.1" y2="307.8" stroke="#ff36a8" stroke-width="0.8" />
<line x1="249.9" y1="304.5" x2="249.9" y2="310.5" stroke="#ff36a8" stroke-width="0.8" />
<line x1="248.8" y1="304.5" x2="251" y2="304.5" stroke="#ff36a8" stroke-width="0.8" />
<line x1="248.8" y1="310.5" x2="251" y2="310.5" stroke="#ff36a8" stroke-width="0.8" />
<line x1="255.7" y1="305.3" x2="255.7" y2="311.3" stroke="#ff36a8" stroke-width="0.8" />
<line x1="254.6" y1="305.3" x2="256.8" y2="305.3" stroke="#ff36a8" stroke-width="0.8" />
<line x1="254.6" y1="311.3" x2="256.8" y2="311.3" stroke="#ff36a8" stroke-width="0.8" />
<line x1="263.2" y1="271" x2="263.2" y2="281" stroke="#ff36a8" stroke-width="0.8" />
<line x1="262.1" y1="271" x2="264.3" y2="271" stroke="#ff36a8" stroke-width="0.8" />
<line x1="262.1" y1="281" x2="264.3" y2="281" stroke="#ff36a8" stroke-width="0.8" />
<line x1="269.4" y1="276.2" x2="269.4" y2="285.2" stroke="#ff36a8" stroke-width="0.8" />
<line x1="268.3" y1="276.2" x2="270.5" y2="276.2" stroke="#ff36a8" stroke-width="0.8" />
<line x1="268.3" y1="285.2" x2="270.5" y2="285.2" stroke="#ff36a8" stroke-width="0.8" />
<line x1="276" y1="277" x2="276" y2="287" stroke="#ff36a8" stroke-width="0.8" />
<line x1="274.9" y1="277" x2="277.1" y2="277" stroke="#ff36a8" stroke-width="0.8" />
<line x1="274.9" y1="287" x2="277.1" y2="287" stroke="#ff36a8" stroke-width="0.8" />
<line x1="282.4" y1="313.5" x2="282.4" y2="315.9" stroke="#ff36a8" stroke-width="0.8" />
<line x1="281.3" y1="313.5" x2="283.5" y2="313.5" stroke="#ff36a8" stroke-width="0.8" />
<line x1="281.3" y1="315.9" x2="283.5" y2="315.9" stroke="#ff36a8" stroke-width="0.8" />
<line x1="289.1" y1="313.5" x2="289.1" y2="315.9" stroke="#ff36a8" stroke-width="0.8" />
<line x1="288" y1="313.5" x2="290.2" y2="313.5" stroke="#ff36a8" stroke-width="0.8" />
<line x1="288" y1="315.9" x2="290.2" y2="315.9" stroke="#ff36a8" stroke-width="0.8" />
<polyline points="178.2,298.9 183.5,298.2 191.6,298.1 198.5,297.5 204.4,296.8 211.6,288.8 217.8,294.9 224.4,297.6 230.6,297.6 237,298.9 244,304.3 249.9,307.5 255.7,308.3 263.2,276 269.4,280.7 276,282 282.4,314.7 289.1,314.7" fill="none" stroke="#ff36a8" stroke-width="0.9" stroke-linejoin="round" />
<path d="M176.5,300.34 L178.2,297.2 L179.9,300.34Z" fill="#ff36a8"/>
<path d="M181.8,299.64 L183.5,296.5 L185.2,299.64Z" fill="#ff36a8"/>
<path d="M189.9,299.55 L191.6,296.4 L193.3,299.55Z" fill="#ff36a8"/>
<path d="M196.8,298.94 L198.5,295.8 L200.2,298.94Z" fill="#ff36a8"/>
<path d="M202.7,298.25 L204.4,295.1 L206.1,298.25Z" fill="#ff36a8"/>
<path d="M209.9,290.25 L211.6,287.1 L213.3,290.25Z" fill="#ff36a8"/>
<path d="M216.1,296.34 L217.8,293.2 L219.5,296.34Z" fill="#ff36a8"/>
<path d="M222.7,299.05 L224.4,295.9 L226.1,299.05Z" fill="#ff36a8"/>
<path d="M228.9,299.05 L230.6,295.9 L232.3,299.05Z" fill="#ff36a8"/>
<path d="M235.3,300.34 L237,297.2 L238.7,300.34Z" fill="#ff36a8"/>
<path d="M242.3,305.75 L244,302.6 L245.7,305.75Z" fill="#ff36a8"/>
<path d="M248.2,308.94 L249.9,305.8 L251.6,308.94Z" fill="#ff36a8"/>
<path d="M254,309.75 L255.7,306.6 L257.4,309.75Z" fill="#ff36a8"/>
<path d="M261.5,277.44 L263.2,274.3 L264.9,277.44Z" fill="#ff36a8"/>
<path d="M267.7,282.14 L269.4,279 L271.1,282.14Z" fill="#ff36a8"/>
<path d="M274.3,283.44 L276,280.3 L277.7,283.44Z" fill="#ff36a8"/>
<path d="M280.7,316.14 L282.4,313 L284.1,316.14Z" fill="#ff36a8"/>
<path d="M287.4,316.14 L289.1,313 L290.8,316.14Z" fill="#ff36a8"/>
<circle cx="211" cy="277" r="1.5" fill="#ff36a8"/>
<circle cx="237.5" cy="306.5" r="1.5" fill="#ff36a8"/>
<rect x="380.2" y="208.6" width="64.7" height="29.2" fill="#fff" stroke="#555" stroke-width="0.8"/>
<line x1="382.5" y1="217.1" x2="399.5" y2="217.1" stroke="#2b2bea" stroke-width="1" />
<path d="M390.6,218.46 L392.2,215.5 L393.8,218.46Z" fill="#2b2bea"/>
<line x1="382.5" y1="230.5" x2="399.5" y2="230.5" stroke="#f02a2a" stroke-width="1" />
<circle cx="392.2" cy="230.5" r="1.3" fill="#f02a2a"/>
<text x="405.5" y="220.2" font-size="9" fill="#2b2bea" text-anchor="start" font-weight="normal" >MCU<tspan font-size="6.4" dy="-3.8">+/+</tspan></text>
<text x="405.5" y="233.7" font-size="9" fill="#f02a2a" text-anchor="start" font-weight="normal" >MCU<tspan font-size="6.4" dy="-3.8">-/-</tspan></text>
<line x1="326.5" y1="231.5" x2="326.5" y2="318" stroke="#666" stroke-width="0.8" />
<line x1="324.5" y1="232" x2="326.5" y2="232" stroke="#666" stroke-width="0.8" />
<text x="322.5" y="234.7" font-size="7.4" fill="#222" text-anchor="end" font-weight="normal" >6</text>
<line x1="324.5" y1="266.4" x2="326.5" y2="266.4" stroke="#666" stroke-width="0.8" />
<text x="322.5" y="269.1" font-size="7.4" fill="#222" text-anchor="end" font-weight="normal" >4</text>
<line x1="324.5" y1="301.2" x2="326.5" y2="301.2" stroke="#666" stroke-width="0.8" />
<text x="322.5" y="303.9" font-size="7.4" fill="#222" text-anchor="end" font-weight="normal" >2</text>
<line x1="325.3" y1="249.2" x2="326.5" y2="249.2" stroke="#666" stroke-width="0.6" />
<line x1="325.3" y1="283.8" x2="326.5" y2="283.8" stroke="#666" stroke-width="0.6" />
<text x="0" y="0" font-size="9.4" fill="#222" transform="translate(310.4 316) rotate(-90)" textLength="90.6" lengthAdjust="spacingAndGlyphs">OCR (pmol/min*gprot)</text>
<text x="349.7" y="235.3" font-size="9.4" fill="#111" text-anchor="start" font-weight="normal" >CCK</text>
<line x1="349.7" y1="238.8" x2="443.2" y2="238.8" stroke="#000" stroke-width="2.6" />
<line x1="327" y1="284.3" x2="327" y2="298.3" stroke="#f02a2a" stroke-width="0.8" />
<line x1="327" y1="284.3" x2="327" y2="284.3" stroke="#f02a2a" stroke-width="0.8" />
<line x1="327" y1="298.3" x2="327" y2="298.3" stroke="#f02a2a" stroke-width="0.8" />
<line x1="345.8" y1="284.5" x2="345.8" y2="295.5" stroke="#f02a2a" stroke-width="0.8" />
<line x1="345.8" y1="284.5" x2="345.8" y2="284.5" stroke="#f02a2a" stroke-width="0.8" />
<line x1="345.8" y1="295.5" x2="345.8" y2="295.5" stroke="#f02a2a" stroke-width="0.8" />
<line x1="365.4" y1="265.4" x2="365.4" y2="287.4" stroke="#f02a2a" stroke-width="0.8" />
<line x1="365.4" y1="265.4" x2="365.4" y2="265.4" stroke="#f02a2a" stroke-width="0.8" />
<line x1="365.4" y1="287.4" x2="365.4" y2="287.4" stroke="#f02a2a" stroke-width="0.8" />
<line x1="384.6" y1="277" x2="384.6" y2="299" stroke="#f02a2a" stroke-width="0.8" />
<line x1="384.6" y1="277" x2="384.6" y2="277" stroke="#f02a2a" stroke-width="0.8" />
<line x1="384.6" y1="299" x2="384.6" y2="299" stroke="#f02a2a" stroke-width="0.8" />
<line x1="404" y1="281.3" x2="404" y2="301.3" stroke="#f02a2a" stroke-width="0.8" />
<line x1="404" y1="281.3" x2="404" y2="281.3" stroke="#f02a2a" stroke-width="0.8" />
<line x1="404" y1="301.3" x2="404" y2="301.3" stroke="#f02a2a" stroke-width="0.8" />
<line x1="423" y1="283.7" x2="423" y2="302.3" stroke="#f02a2a" stroke-width="0.8" />
<line x1="423" y1="283.7" x2="423" y2="283.7" stroke="#f02a2a" stroke-width="0.8" />
<line x1="423" y1="302.3" x2="423" y2="302.3" stroke="#f02a2a" stroke-width="0.8" />
<line x1="441.7" y1="284.6" x2="441.7" y2="303.4" stroke="#f02a2a" stroke-width="0.8" />
<line x1="441.7" y1="284.6" x2="441.7" y2="284.6" stroke="#f02a2a" stroke-width="0.8" />
<line x1="441.7" y1="303.4" x2="441.7" y2="303.4" stroke="#f02a2a" stroke-width="0.8" />
<polyline points="327,291.3 345.8,290 365.4,276.4 384.6,288 404,291.3 423,293 441.7,294" fill="none" stroke="#f02a2a" stroke-width="1" stroke-linejoin="round" />
<circle cx="327" cy="291.3" r="1.4" fill="#f02a2a"/>
<circle cx="345.8" cy="290" r="1.4" fill="#f02a2a"/>
<circle cx="365.4" cy="276.4" r="1.4" fill="#f02a2a"/>
<circle cx="384.6" cy="288" r="1.4" fill="#f02a2a"/>
<circle cx="404" cy="291.3" r="1.4" fill="#f02a2a"/>
<circle cx="423" cy="293" r="1.4" fill="#f02a2a"/>
<circle cx="441.7" cy="294" r="1.4" fill="#f02a2a"/>
<line x1="327" y1="280.2" x2="327" y2="289.2" stroke="#2b2bea" stroke-width="0.8" />
<line x1="327" y1="280.2" x2="327" y2="280.2" stroke="#2b2bea" stroke-width="0.8" />
<line x1="327" y1="289.2" x2="327" y2="289.2" stroke="#2b2bea" stroke-width="0.8" />
<line x1="345.8" y1="279.7" x2="345.8" y2="287.7" stroke="#2b2bea" stroke-width="0.8" />
<line x1="345.8" y1="279.7" x2="345.8" y2="279.7" stroke="#2b2bea" stroke-width="0.8" />
<line x1="345.8" y1="287.7" x2="345.8" y2="287.7" stroke="#2b2bea" stroke-width="0.8" />
<line x1="365.4" y1="246" x2="365.4" y2="260" stroke="#2b2bea" stroke-width="0.8" />
<line x1="365.4" y1="246" x2="365.4" y2="246" stroke="#2b2bea" stroke-width="0.8" />
<line x1="365.4" y1="260" x2="365.4" y2="260" stroke="#2b2bea" stroke-width="0.8" />
<line x1="384.6" y1="254.2" x2="384.6" y2="269.8" stroke="#2b2bea" stroke-width="0.8" />
<line x1="384.6" y1="254.2" x2="384.6" y2="254.2" stroke="#2b2bea" stroke-width="0.8" />
<line x1="384.6" y1="269.8" x2="384.6" y2="269.8" stroke="#2b2bea" stroke-width="0.8" />
<line x1="404" y1="259.4" x2="404" y2="273.4" stroke="#2b2bea" stroke-width="0.8" />
<line x1="404" y1="259.4" x2="404" y2="259.4" stroke="#2b2bea" stroke-width="0.8" />
<line x1="404" y1="273.4" x2="404" y2="273.4" stroke="#2b2bea" stroke-width="0.8" />
<line x1="423" y1="261.3" x2="423" y2="274.7" stroke="#2b2bea" stroke-width="0.8" />
<line x1="423" y1="261.3" x2="423" y2="261.3" stroke="#2b2bea" stroke-width="0.8" />
<line x1="423" y1="274.7" x2="423" y2="274.7" stroke="#2b2bea" stroke-width="0.8" />
<line x1="441.7" y1="262.6" x2="441.7" y2="275.4" stroke="#2b2bea" stroke-width="0.8" />
<line x1="441.7" y1="262.6" x2="441.7" y2="262.6" stroke="#2b2bea" stroke-width="0.8" />
<line x1="441.7" y1="275.4" x2="441.7" y2="275.4" stroke="#2b2bea" stroke-width="0.8" />
<polyline points="327,284.7 345.8,283.7 365.4,253 384.6,262 404,266.4 423,268 441.7,269" fill="none" stroke="#2b2bea" stroke-width="1" stroke-linejoin="round" />
<path d="M325.2,286.23 L327,282.9 L328.8,286.23Z" fill="#2b2bea"/>
<path d="M344,285.23 L345.8,281.9 L347.6,285.23Z" fill="#2b2bea"/>
<path d="M363.6,254.53 L365.4,251.2 L367.2,254.53Z" fill="#2b2bea"/>
<path d="M382.8,263.53 L384.6,260.2 L386.4,263.53Z" fill="#2b2bea"/>
<path d="M402.2,267.93 L404,264.6 L405.8,267.93Z" fill="#2b2bea"/>
<path d="M421.2,269.53 L423,266.2 L424.8,269.53Z" fill="#2b2bea"/>
<path d="M439.9,270.53 L441.7,267.2 L443.5,270.53Z" fill="#2b2bea"/>
<text x="423" y="259" font-size="8.5" fill="#111" text-anchor="middle" font-weight="normal" >*</text>
<text x="441.7" y="259" font-size="8.5" fill="#111" text-anchor="middle" font-weight="normal" >*</text>
<text x="384.6" y="313.8" font-size="10.6" fill="#111" text-anchor="start" font-weight="normal" >600 sec</text>
<line x1="390.2" y1="315.8" x2="419" y2="315.8" stroke="#222" stroke-width="0.9" />
<text x="16" y="362" font-size="15.2" fill="#111" text-anchor="start" font-weight="bold" textLength="8" lengthAdjust="spacingAndGlyphs">C</text>
<line x1="38.5" y1="384.9" x2="38.5" y2="515" stroke="#8a8a8a" stroke-width="1" />
<line x1="38.5" y1="515" x2="200" y2="515" stroke="#8a8a8a" stroke-width="1" />
<line x1="36" y1="515" x2="38.5" y2="515" stroke="#8a8a8a" stroke-width="0.9" />
<text x="34" y="518.1" font-size="10.2" fill="#1a1a1a" text-anchor="end" font-weight="normal" >0</text>
<line x1="36" y1="489.08" x2="38.5" y2="489.08" stroke="#8a8a8a" stroke-width="0.9" />
<text x="34" y="492.18" font-size="10.2" fill="#1a1a1a" text-anchor="end" font-weight="normal" >1</text>
<line x1="36" y1="463.16" x2="38.5" y2="463.16" stroke="#8a8a8a" stroke-width="0.9" />
<text x="34" y="466.26" font-size="10.2" fill="#1a1a1a" text-anchor="end" font-weight="normal" >2</text>
<line x1="36" y1="437.24" x2="38.5" y2="437.24" stroke="#8a8a8a" stroke-width="0.9" />
<text x="34" y="440.34" font-size="10.2" fill="#1a1a1a" text-anchor="end" font-weight="normal" >3</text>
<line x1="36" y1="411.32" x2="38.5" y2="411.32" stroke="#8a8a8a" stroke-width="0.9" />
<text x="34" y="414.42" font-size="10.2" fill="#1a1a1a" text-anchor="end" font-weight="normal" >4</text>
<line x1="36" y1="385.4" x2="38.5" y2="385.4" stroke="#8a8a8a" stroke-width="0.9" />
<text x="34" y="388.5" font-size="10.2" fill="#1a1a1a" text-anchor="end" font-weight="normal" >5</text>
<line x1="37.1" y1="502.04" x2="38.5" y2="502.04" stroke="#8a8a8a" stroke-width="0.7" />
<line x1="37.1" y1="476.12" x2="38.5" y2="476.12" stroke="#8a8a8a" stroke-width="0.7" />
<line x1="37.1" y1="450.2" x2="38.5" y2="450.2" stroke="#8a8a8a" stroke-width="0.7" />
<line x1="37.1" y1="424.28" x2="38.5" y2="424.28" stroke="#8a8a8a" stroke-width="0.7" />
<line x1="37.1" y1="398.36" x2="38.5" y2="398.36" stroke="#8a8a8a" stroke-width="0.7" />
<rect x="39.7" y="489.38" width="9.4" height="25.62" fill="#0000ff" stroke="#3a3a3a" stroke-width="0.6"/>
<rect x="51.4" y="486.27" width="9.4" height="28.73" fill="#ff0000" stroke="#3a3a3a" stroke-width="0.6"/>
<rect x="63.2" y="462.16" width="9.4" height="52.84" fill="#0000ff" stroke="#3a3a3a" stroke-width="0.6"/>
<rect x="74.3" y="466.83" width="9.4" height="48.17" fill="#ff0000" stroke="#3a3a3a" stroke-width="0.6"/>
<rect x="97.5" y="489.38" width="9.4" height="25.62" fill="#0000ff" stroke="#3a3a3a" stroke-width="0.6"/>
<rect x="109.2" y="489.9" width="9.4" height="25.1" fill="#ff0000" stroke="#3a3a3a" stroke-width="0.6"/>
<rect x="121" y="399.96" width="9.4" height="115.04" fill="#0000ff" stroke="#3a3a3a" stroke-width="0.6"/>
<rect x="132.1" y="427.17" width="9.4" height="87.83" fill="#ff0000" stroke="#3a3a3a" stroke-width="0.6"/>
<rect x="155.3" y="489.38" width="9.4" height="25.62" fill="#0000ff" stroke="#3a3a3a" stroke-width="0.6"/>
<rect x="167" y="490.68" width="9.4" height="24.32" fill="#ff0000" stroke="#3a3a3a" stroke-width="0.6"/>
<rect x="178.8" y="442.72" width="9.4" height="72.28" fill="#0000ff" stroke="#3a3a3a" stroke-width="0.6"/>
<rect x="189.9" y="462.16" width="9.4" height="52.84" fill="#ff0000" stroke="#3a3a3a" stroke-width="0.6"/>
<line x1="56.1" y1="484.67" x2="56.1" y2="487.27" stroke="#333" stroke-width="0.8" />
<line x1="54.7" y1="484.67" x2="57.5" y2="484.67" stroke="#333" stroke-width="0.8" />
<line x1="54.7" y1="487.27" x2="57.5" y2="487.27" stroke="#333" stroke-width="0.8" />
<line x1="67.9" y1="454.09" x2="67.9" y2="468.86" stroke="#333" stroke-width="0.8" />
<line x1="66.5" y1="454.09" x2="69.3" y2="454.09" stroke="#333" stroke-width="0.8" />
<line x1="66.5" y1="468.86" x2="69.3" y2="468.86" stroke="#333" stroke-width="0.8" />
<line x1="79" y1="461.86" x2="79" y2="471.45" stroke="#333" stroke-width="0.8" />
<line x1="77.6" y1="461.86" x2="80.4" y2="461.86" stroke="#333" stroke-width="0.8" />
<line x1="77.6" y1="471.45" x2="80.4" y2="471.45" stroke="#333" stroke-width="0.8" />
<line x1="113.9" y1="488.3" x2="113.9" y2="490.64" stroke="#333" stroke-width="0.8" />
<line x1="112.5" y1="488.3" x2="115.3" y2="488.3" stroke="#333" stroke-width="0.8" />
<line x1="112.5" y1="490.64" x2="115.3" y2="490.64" stroke="#333" stroke-width="0.8" />
<line x1="125.7" y1="385.4" x2="125.7" y2="413.91" stroke="#333" stroke-width="0.8" />
<line x1="124.3" y1="385.4" x2="127.1" y2="385.4" stroke="#333" stroke-width="0.8" />
<line x1="124.3" y1="413.91" x2="127.1" y2="413.91" stroke="#333" stroke-width="0.8" />
<line x1="136.8" y1="412.62" x2="136.8" y2="441.13" stroke="#333" stroke-width="0.8" />
<line x1="135.4" y1="412.62" x2="138.2" y2="412.62" stroke="#333" stroke-width="0.8" />
<line x1="135.4" y1="441.13" x2="138.2" y2="441.13" stroke="#333" stroke-width="0.8" />
<line x1="171.7" y1="487.78" x2="171.7" y2="493.23" stroke="#333" stroke-width="0.8" />
<line x1="170.3" y1="487.78" x2="173.1" y2="487.78" stroke="#333" stroke-width="0.8" />
<line x1="170.3" y1="493.23" x2="173.1" y2="493.23" stroke="#333" stroke-width="0.8" />
<line x1="183.5" y1="433.35" x2="183.5" y2="450.2" stroke="#333" stroke-width="0.8" />
<line x1="182.1" y1="433.35" x2="184.9" y2="433.35" stroke="#333" stroke-width="0.8" />
<line x1="182.1" y1="450.2" x2="184.9" y2="450.2" stroke="#333" stroke-width="0.8" />
<line x1="194.6" y1="455.38" x2="194.6" y2="467.05" stroke="#333" stroke-width="0.8" />
<line x1="193.2" y1="455.38" x2="196" y2="455.38" stroke="#333" stroke-width="0.8" />
<line x1="193.2" y1="467.05" x2="196" y2="467.05" stroke="#333" stroke-width="0.8" />
<text x="455.4" y="16.3" font-size="11.4" fill="#222" transform="translate(16.3 455.4) rotate(-90) translate(-455.4 -16.3)" textLength="52.9" lengthAdjust="spacingAndGlyphs" stroke="#222" stroke-width="0.25">Apoptosis</text>
<text x="58.3" y="389.3" font-size="10.2" fill="#0000ff" text-anchor="start" font-weight="normal" >MCU<tspan font-size="7.2" font-weight="bold" dx="1.4" dy="-4.9">+/+</tspan></text>
<text x="58.3" y="403.9" font-size="10.2" fill="#ff0000" text-anchor="start" font-weight="normal" >MCU<tspan font-size="7.2" font-weight="bold" dx="1.4" dy="-4.9">-/-</tspan></text>
<text x="541.4" y="73.3" font-size="10.6" fill="#222" transform="translate(73.3 541.4) rotate(-90) translate(-541.4 -73.3)" textLength="17.6" lengthAdjust="spacingAndGlyphs" stroke="#222" stroke-width="0.25">CCK</text>
<text x="542" y="83.3" font-size="10.6" fill="#222" transform="translate(83.3 542) rotate(-90) translate(-542 -83.3)" textLength="17.5" lengthAdjust="spacingAndGlyphs" stroke="#222" stroke-width="0.25">CCK</text>
<text x="544.9" y="128.7" font-size="10.6" fill="#222" transform="translate(128.7 544.9) rotate(-90) translate(-544.9 -128.7)" textLength="22" lengthAdjust="spacingAndGlyphs" stroke="#222" stroke-width="0.25">TLCS</text>
<text x="544.9" y="139.4" font-size="10.6" fill="#222" transform="translate(139.4 544.9) rotate(-90) translate(-544.9 -139.4)" textLength="21.7" lengthAdjust="spacingAndGlyphs" stroke="#222" stroke-width="0.25">TLCS</text>
<text x="541.6" y="185.6" font-size="10.6" fill="#222" transform="translate(185.6 541.6) rotate(-90) translate(-541.6 -185.6)" textLength="20.5" lengthAdjust="spacingAndGlyphs" stroke="#222" stroke-width="0.25">POA</text>
<text x="541.8" y="196" font-size="10.6" fill="#222" transform="translate(196 541.8) rotate(-90) translate(-541.8 -196)" textLength="20" lengthAdjust="spacingAndGlyphs" stroke="#222" stroke-width="0.25">POA</text>
<text x="61.5" y="451.1" font-size="9.7" fill="#1e1e1e" text-anchor="start" font-weight="normal" >p=0.32</text>
<line x1="66.7" y1="453.8" x2="79.5" y2="453.8" stroke="#5a5a5a" stroke-width="0.9" stroke-dasharray="1.1,1.7"/>
<text x="117.8" y="380.3" font-size="9.7" fill="#1e1e1e" text-anchor="start" font-weight="normal" >p=0.18</text>
<line x1="123.4" y1="382.8" x2="136.7" y2="382.8" stroke="#5a5a5a" stroke-width="0.9" stroke-dasharray="1.1,1.7"/>
<text x="178" y="425.6" font-size="9.7" fill="#1e1e1e" text-anchor="start" font-weight="normal" >p=0.08</text>
<line x1="182.8" y1="430.3" x2="196.7" y2="430.3" stroke="#5a5a5a" stroke-width="0.9" stroke-dasharray="1.1,1.7"/>
<line x1="259.3" y1="383.3" x2="259.3" y2="514.6" stroke="#8a8a8a" stroke-width="1" />
<line x1="259.3" y1="514.6" x2="420.8" y2="514.6" stroke="#8a8a8a" stroke-width="1" />
<line x1="256.8" y1="514.6" x2="259.3" y2="514.6" stroke="#8a8a8a" stroke-width="0.9" />
<text x="255.7" y="518.2" font-size="10.4" fill="#1a1a1a" text-anchor="end" font-weight="normal" >0</text>
<line x1="256.8" y1="471" x2="259.3" y2="471" stroke="#8a8a8a" stroke-width="0.9" />
<text x="255.7" y="474.6" font-size="10.4" fill="#1a1a1a" text-anchor="end" font-weight="normal" >1</text>
<line x1="256.8" y1="427.4" x2="259.3" y2="427.4" stroke="#8a8a8a" stroke-width="0.9" />
<text x="255.7" y="431" font-size="10.4" fill="#1a1a1a" text-anchor="end" font-weight="normal" >2</text>
<line x1="256.8" y1="383.8" x2="259.3" y2="383.8" stroke="#8a8a8a" stroke-width="0.9" />
<text x="255.7" y="387.4" font-size="10.4" fill="#1a1a1a" text-anchor="end" font-weight="normal" >3</text>
<line x1="257.9" y1="492.8" x2="259.3" y2="492.8" stroke="#8a8a8a" stroke-width="0.7" />
<line x1="257.9" y1="449.2" x2="259.3" y2="449.2" stroke="#8a8a8a" stroke-width="0.7" />
<line x1="257.9" y1="405.6" x2="259.3" y2="405.6" stroke="#8a8a8a" stroke-width="0.7" />
<rect x="260.7" y="471.3" width="9.4" height="43.3" fill="#0000ff" stroke="#3a3a3a" stroke-width="0.6"/>
<rect x="272.4" y="469.99" width="9.4" height="44.61" fill="#ff0000" stroke="#3a3a3a" stroke-width="0.6"/>
<rect x="284.2" y="441.65" width="9.4" height="72.95" fill="#0000ff" stroke="#3a3a3a" stroke-width="0.6"/>
<rect x="295.3" y="456.91" width="9.4" height="57.69" fill="#ff0000" stroke="#3a3a3a" stroke-width="0.6"/>
<rect x="318.4" y="471.3" width="9.4" height="43.3" fill="#0000ff" stroke="#3a3a3a" stroke-width="0.6"/>
<rect x="330.1" y="473.48" width="9.4" height="41.12" fill="#ff0000" stroke="#3a3a3a" stroke-width="0.6"/>
<rect x="341.9" y="408.08" width="9.4" height="106.52" fill="#0000ff" stroke="#3a3a3a" stroke-width="0.6"/>
<rect x="353" y="423.34" width="9.4" height="91.26" fill="#ff0000" stroke="#3a3a3a" stroke-width="0.6"/>
<rect x="376.1" y="471.3" width="9.4" height="43.3" fill="#0000ff" stroke="#3a3a3a" stroke-width="0.6"/>
<rect x="387.8" y="474.79" width="9.4" height="39.81" fill="#ff0000" stroke="#3a3a3a" stroke-width="0.6"/>
<rect x="399.6" y="408.08" width="9.4" height="106.52" fill="#0000ff" stroke="#3a3a3a" stroke-width="0.6"/>
<rect x="410.7" y="429.88" width="9.4" height="84.72" fill="#ff0000" stroke="#3a3a3a" stroke-width="0.6"/>
<line x1="277.1" y1="468.38" x2="277.1" y2="471" stroke="#333" stroke-width="0.8" />
<line x1="275.7" y1="468.38" x2="278.5" y2="468.38" stroke="#333" stroke-width="0.8" />
<line x1="275.7" y1="471" x2="278.5" y2="471" stroke="#333" stroke-width="0.8" />
<line x1="288.9" y1="433.94" x2="288.9" y2="447.02" stroke="#333" stroke-width="0.8" />
<line x1="287.5" y1="433.94" x2="290.3" y2="433.94" stroke="#333" stroke-width="0.8" />
<line x1="287.5" y1="447.02" x2="290.3" y2="447.02" stroke="#333" stroke-width="0.8" />
<line x1="300" y1="453.56" x2="300" y2="459.23" stroke="#333" stroke-width="0.8" />
<line x1="298.6" y1="453.56" x2="301.4" y2="453.56" stroke="#333" stroke-width="0.8" />
<line x1="298.6" y1="459.23" x2="301.4" y2="459.23" stroke="#333" stroke-width="0.8" />
<line x1="334.8" y1="469.69" x2="334.8" y2="476.23" stroke="#333" stroke-width="0.8" />
<line x1="333.4" y1="469.69" x2="336.2" y2="469.69" stroke="#333" stroke-width="0.8" />
<line x1="333.4" y1="476.23" x2="336.2" y2="476.23" stroke="#333" stroke-width="0.8" />
<line x1="346.6" y1="403.42" x2="346.6" y2="410.83" stroke="#333" stroke-width="0.8" />
<line x1="345.2" y1="403.42" x2="348" y2="403.42" stroke="#333" stroke-width="0.8" />
<line x1="345.2" y1="410.83" x2="348" y2="410.83" stroke="#333" stroke-width="0.8" />
<line x1="357.7" y1="418.68" x2="357.7" y2="426.09" stroke="#333" stroke-width="0.8" />
<line x1="356.3" y1="418.68" x2="359.1" y2="418.68" stroke="#333" stroke-width="0.8" />
<line x1="356.3" y1="426.09" x2="359.1" y2="426.09" stroke="#333" stroke-width="0.8" />
<line x1="392.5" y1="471.44" x2="392.5" y2="477.1" stroke="#333" stroke-width="0.8" />
<line x1="391.1" y1="471.44" x2="393.9" y2="471.44" stroke="#333" stroke-width="0.8" />
<line x1="391.1" y1="477.1" x2="393.9" y2="477.1" stroke="#333" stroke-width="0.8" />
<line x1="404.3" y1="399.06" x2="404.3" y2="417.37" stroke="#333" stroke-width="0.8" />
<line x1="402.9" y1="399.06" x2="405.7" y2="399.06" stroke="#333" stroke-width="0.8" />
<line x1="402.9" y1="417.37" x2="405.7" y2="417.37" stroke="#333" stroke-width="0.8" />
<line x1="415.4" y1="420.86" x2="415.4" y2="438.3" stroke="#333" stroke-width="0.8" />
<line x1="414" y1="420.86" x2="416.8" y2="420.86" stroke="#333" stroke-width="0.8" />
<line x1="414" y1="438.3" x2="416.8" y2="438.3" stroke="#333" stroke-width="0.8" />
<text x="451.6" y="238.4" font-size="10.9" fill="#222" transform="translate(238.4 451.6) rotate(-90) translate(-451.6 -238.4)" textLength="44.5" lengthAdjust="spacingAndGlyphs" stroke="#222" stroke-width="0.25">Necrosis</text>
<text x="275.6" y="387.3" font-size="10" fill="#0000ff" text-anchor="start" font-weight="normal" >MCU<tspan font-size="7.2" font-weight="bold" dx="1.4" dy="-4.9">+/+</tspan></text>
<text x="275.6" y="403.5" font-size="10" fill="#ff0000" text-anchor="start" font-weight="normal" >MCU<tspan font-size="7.2" font-weight="bold" dx="1.4" dy="-4.9">-/-</tspan></text>
<text x="539.4" y="291" font-size="10.6" fill="#222" transform="translate(291 539.4) rotate(-90) translate(-539.4 -291)" textLength="17.4" lengthAdjust="spacingAndGlyphs" stroke="#222" stroke-width="0.25">CCK</text>
<text x="539.8" y="303.1" font-size="10.6" fill="#222" transform="translate(303.1 539.8) rotate(-90) translate(-539.8 -303.1)" textLength="17.8" lengthAdjust="spacingAndGlyphs" stroke="#222" stroke-width="0.25">CCK</text>
<text x="541.4" y="347" font-size="10.6" fill="#222" transform="translate(347 541.4) rotate(-90) translate(-541.4 -347)" textLength="22" lengthAdjust="spacingAndGlyphs" stroke="#222" stroke-width="0.25">TLCS</text>
<text x="541.9" y="359" font-size="10.6" fill="#222" transform="translate(359 541.9) rotate(-90) translate(-541.9 -359)" textLength="22.1" lengthAdjust="spacingAndGlyphs" stroke="#222" stroke-width="0.25">TLCS</text>
<text x="538.9" y="404.7" font-size="10.6" fill="#222" transform="translate(404.7 538.9) rotate(-90) translate(-538.9 -404.7)" textLength="20.1" lengthAdjust="spacingAndGlyphs" stroke="#222" stroke-width="0.25">POA</text>
<text x="538.9" y="416.5" font-size="10.6" fill="#222" transform="translate(416.5 538.9) rotate(-90) translate(-538.9 -416.5)" textLength="20.1" lengthAdjust="spacingAndGlyphs" stroke="#222" stroke-width="0.25">POA</text>
<text x="278.9" y="427.8" font-size="9.7" fill="#1e1e1e" text-anchor="start" font-weight="normal" >p=0.14</text>
<line x1="287.8" y1="430.6" x2="301.7" y2="430.6" stroke="#5a5a5a" stroke-width="0.9" stroke-dasharray="1.1,1.7"/>
<text x="336" y="397.6" font-size="9.7" fill="#1e1e1e" text-anchor="start" font-weight="normal" >p=0.02 (*)</text>
<line x1="345.4" y1="400.7" x2="359.4" y2="400.7" stroke="#5a5a5a" stroke-width="0.9" stroke-dasharray="1.1,1.7"/>
<text x="397.8" y="392.8" font-size="9.7" fill="#1e1e1e" text-anchor="start" font-weight="normal" >p=0.11</text>
<line x1="402.8" y1="395.4" x2="416.7" y2="395.4" stroke="#5a5a5a" stroke-width="0.9" stroke-dasharray="1.1,1.7"/>
</svg></body></html>
